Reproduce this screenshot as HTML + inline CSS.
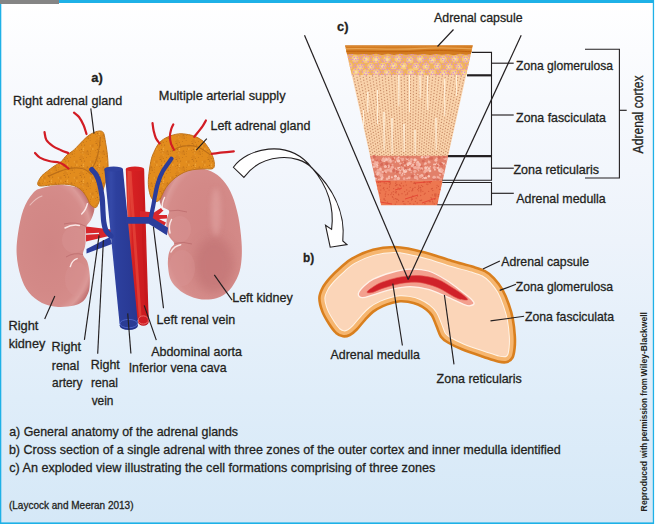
<!DOCTYPE html>
<html><head><meta charset="utf-8"><style>
html,body{margin:0;padding:0;background:#fff;}
svg{display:block;font-family:"Liberation Sans",sans-serif;}
</style></head><body>
<svg width="655" height="524" viewBox="0 0 655 524">
<defs>
<linearGradient id="bg" x1="0" y1="0" x2="0" y2="1">
<stop offset="0" stop-color="#ffffff"/><stop offset="0.19" stop-color="#f7f9fd"/><stop offset="0.46" stop-color="#edf3fb"/><stop offset="0.76" stop-color="#dfedf9"/><stop offset="1" stop-color="#d5e8f7"/>
</linearGradient>
</defs>
<rect x="0" y="0" width="655" height="524" fill="#ffffff"/>
<rect x="0" y="0" width="654" height="524" fill="url(#bg)"/>
<rect x="0" y="0" width="1.3" height="524" fill="#1eb1e7"/>
<rect x="652.8" y="0" width="1.3" height="524" fill="#1eb1e7"/>
<rect x="0" y="522.4" width="654" height="1.6" fill="#1eb1e7"/>
<rect x="0" y="0" width="654" height="3" fill="#1eb1e7"/>
<rect x="0" y="0" width="59" height="4" fill="#858585"/>
<clipPath id="ctrap"><path d="M345.0,45.3 L472.8,45.3 L437.2,205.3 L381.2,205.3 Z"/></clipPath>
<g clip-path="url(#ctrap)">
<rect x="340" y="50" width="140" height="26" fill="#f0b25e"/>
<circle cx="343.6" cy="58.9" r="3.6" fill="#f7c97e"/>
<circle cx="355.3" cy="58.8" r="3.6" fill="#f7c97e"/>
<circle cx="366.1" cy="59.3" r="3.6" fill="#f7c97e"/>
<circle cx="376.1" cy="59.5" r="3.6" fill="#f7c97e"/>
<circle cx="387.1" cy="59.4" r="3.6" fill="#f7c97e"/>
<circle cx="398.1" cy="58.8" r="3.6" fill="#f7c97e"/>
<circle cx="409.8" cy="60.0" r="3.6" fill="#f7c97e"/>
<circle cx="420.2" cy="59.1" r="3.6" fill="#f7c97e"/>
<circle cx="432.3" cy="60.2" r="3.6" fill="#f7c97e"/>
<circle cx="443.2" cy="59.3" r="3.6" fill="#f7c97e"/>
<circle cx="455.0" cy="58.8" r="3.6" fill="#f7c97e"/>
<circle cx="465.7" cy="59.2" r="3.6" fill="#f7c97e"/>
<circle cx="348.8" cy="65.9" r="3.6" fill="#f7c97e"/>
<circle cx="360.1" cy="67.0" r="3.6" fill="#f7c97e"/>
<circle cx="370.9" cy="66.6" r="3.6" fill="#f7c97e"/>
<circle cx="382.8" cy="66.3" r="3.6" fill="#f7c97e"/>
<circle cx="393.6" cy="65.8" r="3.6" fill="#f7c97e"/>
<circle cx="403.6" cy="66.0" r="3.6" fill="#f7c97e"/>
<circle cx="415.9" cy="66.4" r="3.6" fill="#f7c97e"/>
<circle cx="426.1" cy="66.6" r="3.6" fill="#f7c97e"/>
<circle cx="437.4" cy="66.2" r="3.6" fill="#f7c97e"/>
<circle cx="449.1" cy="66.8" r="3.6" fill="#f7c97e"/>
<circle cx="459.0" cy="66.6" r="3.6" fill="#f7c97e"/>
<circle cx="470.6" cy="67.1" r="3.6" fill="#f7c97e"/>
<circle cx="344.5" cy="72.2" r="3.6" fill="#f7c97e"/>
<circle cx="356.0" cy="71.9" r="3.6" fill="#f7c97e"/>
<circle cx="365.8" cy="72.9" r="3.6" fill="#f7c97e"/>
<circle cx="376.3" cy="72.5" r="3.6" fill="#f7c97e"/>
<circle cx="387.1" cy="72.8" r="3.6" fill="#f7c97e"/>
<circle cx="399.5" cy="72.6" r="3.6" fill="#f7c97e"/>
<circle cx="410.8" cy="72.2" r="3.6" fill="#f7c97e"/>
<circle cx="421.4" cy="72.7" r="3.6" fill="#f7c97e"/>
<circle cx="432.2" cy="72.4" r="3.6" fill="#f7c97e"/>
<circle cx="443.7" cy="73.2" r="3.6" fill="#f7c97e"/>
<circle cx="453.9" cy="72.8" r="3.6" fill="#f7c97e"/>
<circle cx="464.1" cy="72.8" r="3.6" fill="#f7c97e"/>
<circle cx="343.6" cy="58.9" r="1.5" fill="#fadbA6"/>
<circle cx="355.3" cy="58.8" r="1.5" fill="#fadbA6"/>
<circle cx="366.1" cy="59.3" r="1.5" fill="#fadbA6"/>
<circle cx="376.1" cy="59.5" r="1.5" fill="#fadbA6"/>
<circle cx="387.1" cy="59.4" r="1.5" fill="#fadbA6"/>
<circle cx="398.1" cy="58.8" r="1.5" fill="#fadbA6"/>
<circle cx="409.8" cy="60.0" r="1.5" fill="#fadbA6"/>
<circle cx="420.2" cy="59.1" r="1.5" fill="#fadbA6"/>
<circle cx="432.3" cy="60.2" r="1.5" fill="#fadbA6"/>
<circle cx="443.2" cy="59.3" r="1.5" fill="#fadbA6"/>
<circle cx="455.0" cy="58.8" r="1.5" fill="#fadbA6"/>
<circle cx="465.7" cy="59.2" r="1.5" fill="#fadbA6"/>
<circle cx="348.8" cy="65.9" r="1.5" fill="#fadbA6"/>
<circle cx="360.1" cy="67.0" r="1.5" fill="#fadbA6"/>
<circle cx="370.9" cy="66.6" r="1.5" fill="#fadbA6"/>
<circle cx="382.8" cy="66.3" r="1.5" fill="#fadbA6"/>
<circle cx="393.6" cy="65.8" r="1.5" fill="#fadbA6"/>
<circle cx="403.6" cy="66.0" r="1.5" fill="#fadbA6"/>
<circle cx="415.9" cy="66.4" r="1.5" fill="#fadbA6"/>
<circle cx="426.1" cy="66.6" r="1.5" fill="#fadbA6"/>
<circle cx="437.4" cy="66.2" r="1.5" fill="#fadbA6"/>
<circle cx="449.1" cy="66.8" r="1.5" fill="#fadbA6"/>
<circle cx="459.0" cy="66.6" r="1.5" fill="#fadbA6"/>
<circle cx="470.6" cy="67.1" r="1.5" fill="#fadbA6"/>
<circle cx="344.5" cy="72.2" r="1.5" fill="#fadbA6"/>
<circle cx="356.0" cy="71.9" r="1.5" fill="#fadbA6"/>
<circle cx="365.8" cy="72.9" r="1.5" fill="#fadbA6"/>
<circle cx="376.3" cy="72.5" r="1.5" fill="#fadbA6"/>
<circle cx="387.1" cy="72.8" r="1.5" fill="#fadbA6"/>
<circle cx="399.5" cy="72.6" r="1.5" fill="#fadbA6"/>
<circle cx="410.8" cy="72.2" r="1.5" fill="#fadbA6"/>
<circle cx="421.4" cy="72.7" r="1.5" fill="#fadbA6"/>
<circle cx="432.2" cy="72.4" r="1.5" fill="#fadbA6"/>
<circle cx="443.7" cy="73.2" r="1.5" fill="#fadbA6"/>
<circle cx="453.9" cy="72.8" r="1.5" fill="#fadbA6"/>
<circle cx="464.1" cy="72.8" r="1.5" fill="#fadbA6"/>
<path d="M344.1,54.9h0M347.2,54.3h0M349.7,54.6h0M352.2,54.5h0M361.0,54.3h0M364.2,54.8h0M366.8,54.5h0M370.1,54.8h0M373.3,54.8h0M378.7,54.8h0M382.2,54.2h0M384.3,54.3h0M390.5,54.3h0M392.8,54.4h0M396.1,54.6h0M399.6,54.7h0M402.0,54.6h0M408.2,54.7h0M411.1,54.7h0M413.5,54.4h0M416.1,54.6h0M419.0,54.2h0M422.0,54.2h0M425.0,54.1h0M430.6,54.4h0M433.4,54.8h0M436.9,54.2h0M442.5,54.2h0M445.8,54.9h0M454.0,54.3h0M457.4,54.2h0M462.9,54.2h0M468.7,54.9h0M472.0,54.7h0M474.3,54.4h0M345.1,57.2h0M348.3,57.2h0M351.0,56.8h0M354.4,57.4h0M357.4,57.2h0M360.2,57.2h0M362.5,57.0h0M365.6,56.6h0M368.1,56.8h0M371.3,57.2h0M374.9,57.0h0M377.7,57.4h0M380.7,56.9h0M385.7,56.8h0M389.0,57.3h0M392.1,57.0h0M394.9,57.2h0M397.2,57.1h0M400.9,57.2h0M403.7,57.0h0M406.0,57.2h0M409.0,57.2h0M412.6,56.9h0M414.9,57.4h0M418.1,56.7h0M420.4,56.7h0M424.1,57.2h0M426.2,57.3h0M430.0,57.1h0M432.3,57.0h0M434.9,56.6h0M438.7,57.1h0M441.1,57.3h0M443.9,57.3h0M447.2,56.8h0M449.6,56.8h0M452.4,57.1h0M455.4,56.9h0M458.1,57.3h0M461.3,57.0h0M464.4,57.3h0M467.1,57.3h0M470.1,57.0h0M473.0,56.6h0M475.8,56.7h0M343.5,59.7h0M346.6,59.5h0M350.0,59.5h0M352.5,59.5h0M355.7,59.7h0M358.1,59.5h0M361.1,59.3h0M364.6,59.5h0M370.5,59.5h0M378.8,59.5h0M381.7,59.9h0M384.8,59.8h0M390.5,59.9h0M398.7,59.3h0M401.6,59.6h0M407.5,59.7h0M410.9,59.2h0M414.0,59.9h0M416.2,59.9h0M422.8,59.8h0M424.9,59.4h0M428.1,59.4h0M430.7,59.4h0M436.9,59.5h0M439.2,59.4h0M442.7,59.5h0M445.1,59.9h0M448.7,59.9h0M450.9,59.3h0M453.7,59.7h0M459.9,59.8h0M465.4,59.8h0M468.8,59.7h0M471.2,59.1h0M474.7,59.4h0M345.0,62.4h0M348.4,62.2h0M353.7,62.3h0M357.0,61.9h0M362.6,61.7h0M368.2,61.7h0M371.1,61.8h0M374.2,61.8h0M377.6,61.8h0M382.9,61.6h0M385.8,61.6h0M389.1,62.0h0M391.5,62.0h0M395.1,61.7h0M397.9,61.9h0M400.5,62.3h0M403.3,62.0h0M406.5,62.4h0M409.0,62.3h0M414.9,61.9h0M417.5,61.7h0M420.4,62.2h0M423.5,61.7h0M426.2,62.3h0M429.9,62.1h0M432.2,61.8h0M435.1,62.0h0M437.9,62.0h0M444.5,62.0h0M446.6,62.4h0M449.6,61.9h0M452.2,61.9h0M455.6,62.0h0M458.2,62.0h0M460.9,61.8h0M463.9,61.9h0M466.7,61.6h0M469.9,61.8h0M473.1,62.0h0M476.2,62.1h0M344.2,64.8h0M346.8,64.4h0M350.3,64.2h0M355.1,64.8h0M358.9,64.6h0M361.6,64.7h0M363.9,64.5h0M370.4,64.8h0M373.1,64.8h0M376.1,64.7h0M378.5,64.1h0M381.3,64.4h0M384.2,64.8h0M387.6,64.6h0M390.5,64.6h0M393.3,64.1h0M399.1,64.5h0M402.2,64.2h0M407.4,64.3h0M410.9,64.3h0M413.8,64.9h0M416.5,64.4h0M419.4,64.6h0M422.6,64.6h0M425.3,64.2h0M427.7,64.3h0M434.0,64.1h0M436.4,64.3h0M439.9,64.7h0M442.8,64.3h0M445.5,64.5h0M448.4,64.2h0M451.7,64.3h0M454.7,64.8h0M456.6,64.5h0M460.3,64.9h0M465.5,64.9h0M468.4,64.6h0M471.2,64.5h0M475.0,64.2h0M345.7,67.0h0M348.7,67.2h0M350.9,67.3h0M354.1,66.6h0M356.5,67.0h0M359.9,66.8h0M362.4,66.9h0M365.5,67.3h0M368.1,67.2h0M371.8,66.7h0M374.8,67.2h0M377.7,66.8h0M380.1,66.9h0M383.6,67.1h0M385.9,66.9h0M388.7,66.6h0M391.4,67.3h0M394.5,67.3h0M397.3,66.8h0M400.5,66.8h0M406.7,67.2h0M412.5,67.0h0M415.2,66.6h0M418.1,67.0h0M421.1,67.1h0M427.0,66.7h0M429.5,66.9h0M435.8,66.8h0M438.4,66.8h0M443.7,66.7h0M446.6,67.3h0M449.8,66.8h0M455.5,66.7h0M458.2,66.7h0M461.2,66.7h0M467.3,67.3h0M470.3,66.9h0M472.9,67.0h0M475.8,66.9h0M343.6,69.3h0M347.4,69.2h0M349.8,69.6h0M355.4,69.3h0M358.4,69.5h0M361.9,69.8h0M366.7,69.7h0M370.5,69.5h0M373.1,69.1h0M375.8,69.8h0M379.1,69.8h0M382.2,69.3h0M384.2,69.2h0M387.5,69.6h0M390.8,69.7h0M393.4,69.7h0M396.2,69.5h0M398.6,69.7h0M401.7,69.8h0M407.4,69.3h0M419.3,69.3h0M422.4,69.1h0M425.0,69.5h0M428.6,69.6h0M431.4,69.5h0M433.6,69.3h0M437.3,69.7h0M439.5,69.1h0M442.6,69.6h0M445.4,69.3h0M448.6,69.8h0M451.0,69.1h0M454.0,69.4h0M457.3,69.3h0M460.3,69.7h0M462.9,69.3h0M466.3,69.3h0M469.0,69.3h0M471.3,69.7h0M474.3,69.9h0M345.4,71.7h0M348.0,71.9h0M353.7,71.9h0M359.5,71.6h0M362.4,71.9h0M366.1,72.3h0M368.8,72.4h0M371.9,71.9h0M374.1,72.3h0M377.5,71.6h0M380.4,71.9h0M383.0,71.9h0M388.7,71.9h0M392.3,71.7h0M395.2,71.8h0M397.5,72.3h0M400.8,71.9h0M402.9,72.0h0M408.9,71.9h0M412.5,71.6h0M414.9,72.2h0M418.2,71.6h0M420.3,71.7h0M424.1,71.8h0M426.8,72.3h0M429.3,71.8h0M432.9,72.1h0M438.0,71.8h0M440.6,72.2h0M444.4,72.1h0M447.3,71.6h0M449.5,72.0h0M453.2,72.4h0M455.5,71.8h0M458.4,72.0h0M461.8,71.7h0M464.6,72.2h0M467.5,72.2h0M470.2,71.9h0M472.8,71.9h0M476.2,71.7h0M346.6,74.2h0M352.5,74.9h0M356.0,74.9h0M358.3,74.2h0M364.5,74.5h0M366.9,74.4h0M373.2,74.8h0M376.1,74.2h0M379.1,74.3h0M381.8,74.4h0M384.8,74.3h0M387.2,74.3h0M390.1,74.8h0M393.4,74.4h0M396.1,74.9h0M399.1,74.3h0M402.3,74.6h0M405.4,74.2h0M407.8,74.8h0M411.0,74.8h0M413.1,74.3h0M416.1,74.3h0M419.9,74.6h0M422.7,74.4h0M427.9,74.7h0M431.4,74.2h0M434.0,74.6h0M436.5,74.4h0M439.3,74.3h0M442.4,74.6h0M445.7,74.3h0M447.9,74.4h0M451.5,74.2h0M454.0,74.3h0M457.4,74.5h0M459.6,74.2h0M462.8,74.5h0M468.4,74.7h0M471.5,74.3h0" stroke="#d88bd6" stroke-width="1.55" stroke-linecap="round" fill="none"/>
<rect x="340" y="75" width="140" height="81" fill="#f9d2aa"/>
<path d="M353.5,76.0h0M354.2,78.9h0M354.8,81.8h0M355.4,84.7h0M356.1,87.6h0M356.7,90.5h0M357.4,93.4h0M358.0,96.3h0M358.6,99.2h0M359.3,102.1h0M359.9,105.0h0M360.6,107.9h0M361.2,110.8h0M361.8,113.7h0M362.5,116.6h0M363.1,119.5h0M363.7,122.4h0M364.4,125.3h0M365.0,128.2h0M365.7,131.1h0M366.3,134.0h0M366.9,136.9h0M367.6,139.8h0M368.2,142.7h0M368.8,145.6h0M369.5,148.5h0M370.1,151.4h0M370.8,154.3h0M357.0,77.3h0M357.6,80.2h0M358.2,83.1h0M358.8,86.0h0M359.4,88.9h0M360.0,91.8h0M360.6,94.7h0M361.2,97.6h0M361.8,100.5h0M362.4,103.4h0M363.0,106.3h0M363.6,109.2h0M364.2,112.1h0M364.8,115.0h0M365.4,117.9h0M366.0,120.8h0M366.6,123.7h0M367.2,126.6h0M367.8,129.5h0M368.4,132.4h0M369.0,135.3h0M369.6,138.2h0M370.2,141.1h0M370.8,144.0h0M371.4,146.9h0M372.0,149.8h0M372.6,152.7h0M373.2,155.6h0M359.9,76.0h0M360.4,78.9h0M361.0,81.8h0M361.6,84.7h0M362.1,87.6h0M362.7,90.5h0M363.3,93.4h0M363.8,96.3h0M364.4,99.2h0M365.0,102.1h0M365.5,105.0h0M366.1,107.9h0M366.7,110.8h0M367.2,113.7h0M367.8,116.6h0M368.4,119.5h0M368.9,122.4h0M369.5,125.3h0M370.1,128.2h0M370.6,131.1h0M371.2,134.0h0M371.7,136.9h0M372.3,139.8h0M372.9,142.7h0M373.4,145.6h0M374.0,148.5h0M374.6,151.4h0M375.1,154.3h0M363.3,77.3h0M363.8,80.2h0M364.3,83.1h0M364.9,86.0h0M365.4,88.9h0M365.9,91.8h0M366.4,94.7h0M367.0,97.6h0M367.5,100.5h0M368.0,103.4h0M368.6,106.3h0M369.1,109.2h0M369.6,112.1h0M370.2,115.0h0M370.7,117.9h0M371.2,120.8h0M371.7,123.7h0M372.3,126.6h0M372.8,129.5h0M373.3,132.4h0M373.9,135.3h0M374.4,138.2h0M374.9,141.1h0M375.5,144.0h0M376.0,146.9h0M376.5,149.8h0M377.0,152.7h0M377.6,155.6h0M366.2,76.0h0M366.7,78.9h0M367.2,81.8h0M367.7,84.7h0M368.2,87.6h0M368.7,90.5h0M369.2,93.4h0M369.7,96.3h0M370.1,99.2h0M370.6,102.1h0M371.1,105.0h0M371.6,107.9h0M372.1,110.8h0M372.6,113.7h0M373.1,116.6h0M373.6,119.5h0M374.1,122.4h0M374.6,125.3h0M375.1,128.2h0M375.6,131.1h0M376.1,134.0h0M376.6,136.9h0M377.1,139.8h0M377.6,142.7h0M378.0,145.6h0M378.5,148.5h0M379.0,151.4h0M379.5,154.3h0M369.6,77.3h0M370.0,80.2h0M370.5,83.1h0M370.9,86.0h0M371.4,88.9h0M371.9,91.8h0M372.3,94.7h0M372.8,97.6h0M373.2,100.5h0M373.7,103.4h0M374.1,106.3h0M374.6,109.2h0M375.1,112.1h0M375.5,115.0h0M376.0,117.9h0M376.4,120.8h0M376.9,123.7h0M377.3,126.6h0M377.8,129.5h0M378.3,132.4h0M378.7,135.3h0M379.2,138.2h0M379.6,141.1h0M380.1,144.0h0M380.5,146.9h0M381.0,149.8h0M381.5,152.7h0M381.9,155.6h0M372.5,76.0h0M372.9,78.9h0M373.4,81.8h0M373.8,84.7h0M374.2,87.6h0M374.6,90.5h0M375.1,93.4h0M375.5,96.3h0M375.9,99.2h0M376.3,102.1h0M376.7,105.0h0M377.2,107.9h0M377.6,110.8h0M378.0,113.7h0M378.4,116.6h0M378.8,119.5h0M379.3,122.4h0M379.7,125.3h0M380.1,128.2h0M380.5,131.1h0M381.0,134.0h0M381.4,136.9h0M381.8,139.8h0M382.2,142.7h0M382.6,145.6h0M383.1,148.5h0M383.5,151.4h0M383.9,154.3h0M375.9,77.3h0M376.3,80.2h0M376.6,83.1h0M377.0,86.0h0M377.4,88.9h0M377.8,91.8h0M378.2,94.7h0M378.6,97.6h0M378.9,100.5h0M379.3,103.4h0M379.7,106.3h0M380.1,109.2h0M380.5,112.1h0M380.9,115.0h0M381.3,117.9h0M381.6,120.8h0M382.0,123.7h0M382.4,126.6h0M382.8,129.5h0M383.2,132.4h0M383.6,135.3h0M384.0,138.2h0M384.3,141.1h0M384.7,144.0h0M385.1,146.9h0M385.5,149.8h0M385.9,152.7h0M386.3,155.6h0M378.9,76.0h0M379.2,78.9h0M379.6,81.8h0M379.9,84.7h0M380.3,87.6h0M380.6,90.5h0M381.0,93.4h0M381.3,96.3h0M381.7,99.2h0M382.0,102.1h0M382.4,105.0h0M382.7,107.9h0M383.1,110.8h0M383.4,113.7h0M383.7,116.6h0M384.1,119.5h0M384.4,122.4h0M384.8,125.3h0M385.1,128.2h0M385.5,131.1h0M385.8,134.0h0M386.2,136.9h0M386.5,139.8h0M386.9,142.7h0M387.2,145.6h0M387.6,148.5h0M387.9,151.4h0M388.3,154.3h0M382.2,77.3h0M382.5,80.2h0M382.8,83.1h0M383.1,86.0h0M383.4,88.9h0M383.7,91.8h0M384.0,94.7h0M384.4,97.6h0M384.7,100.5h0M385.0,103.4h0M385.3,106.3h0M385.6,109.2h0M385.9,112.1h0M386.2,115.0h0M386.6,117.9h0M386.9,120.8h0M387.2,123.7h0M387.5,126.6h0M387.8,129.5h0M388.1,132.4h0M388.4,135.3h0M388.7,138.2h0M389.1,141.1h0M389.4,144.0h0M389.7,146.9h0M390.0,149.8h0M390.3,152.7h0M390.6,155.6h0M385.2,76.0h0M385.5,78.9h0M385.7,81.8h0M386.0,84.7h0M386.3,87.6h0M386.6,90.5h0M386.9,93.4h0M387.1,96.3h0M387.4,99.2h0M387.7,102.1h0M388.0,105.0h0M388.2,107.9h0M388.5,110.8h0M388.8,113.7h0M389.1,116.6h0M389.3,119.5h0M389.6,122.4h0M389.9,125.3h0M390.2,128.2h0M390.5,131.1h0M390.7,134.0h0M391.0,136.9h0M391.3,139.8h0M391.6,142.7h0M391.8,145.6h0M392.1,148.5h0M392.4,151.4h0M392.7,154.3h0M388.5,77.3h0M388.7,80.2h0M388.9,83.1h0M389.2,86.0h0M389.4,88.9h0M389.7,91.8h0M389.9,94.7h0M390.2,97.6h0M390.4,100.5h0M390.6,103.4h0M390.9,106.3h0M391.1,109.2h0M391.4,112.1h0M391.6,115.0h0M391.8,117.9h0M392.1,120.8h0M392.3,123.7h0M392.6,126.6h0M392.8,129.5h0M393.0,132.4h0M393.3,135.3h0M393.5,138.2h0M393.8,141.1h0M394.0,144.0h0M394.2,146.9h0M394.5,149.8h0M394.7,152.7h0M395.0,155.6h0M391.5,76.0h0M391.7,78.9h0M391.9,81.8h0M392.1,84.7h0M392.3,87.6h0M392.5,90.5h0M392.8,93.4h0M393.0,96.3h0M393.2,99.2h0M393.4,102.1h0M393.6,105.0h0M393.8,107.9h0M394.0,110.8h0M394.2,113.7h0M394.4,116.6h0M394.6,119.5h0M394.8,122.4h0M395.0,125.3h0M395.2,128.2h0M395.4,131.1h0M395.6,134.0h0M395.8,136.9h0M396.0,139.8h0M396.2,142.7h0M396.4,145.6h0M396.6,148.5h0M396.8,151.4h0M397.1,154.3h0M394.8,77.3h0M394.9,80.2h0M395.1,83.1h0M395.3,86.0h0M395.4,88.9h0M395.6,91.8h0M395.8,94.7h0M395.9,97.6h0M396.1,100.5h0M396.3,103.4h0M396.5,106.3h0M396.6,109.2h0M396.8,112.1h0M397.0,115.0h0M397.1,117.9h0M397.3,120.8h0M397.5,123.7h0M397.6,126.6h0M397.8,129.5h0M398.0,132.4h0M398.1,135.3h0M398.3,138.2h0M398.5,141.1h0M398.6,144.0h0M398.8,146.9h0M399.0,149.8h0M399.1,152.7h0M399.3,155.6h0M397.9,76.0h0M398.0,78.9h0M398.1,81.8h0M398.3,84.7h0M398.4,87.6h0M398.5,90.5h0M398.7,93.4h0M398.8,96.3h0M398.9,99.2h0M399.1,102.1h0M399.2,105.0h0M399.3,107.9h0M399.4,110.8h0M399.6,113.7h0M399.7,116.6h0M399.8,119.5h0M400.0,122.4h0M400.1,125.3h0M400.2,128.2h0M400.4,131.1h0M400.5,134.0h0M400.6,136.9h0M400.8,139.8h0M400.9,142.7h0M401.0,145.6h0M401.2,148.5h0M401.3,151.4h0M401.4,154.3h0M401.1,77.3h0M401.2,80.2h0M401.3,83.1h0M401.4,86.0h0M401.5,88.9h0M401.5,91.8h0M401.6,94.7h0M401.7,97.6h0M401.8,100.5h0M401.9,103.4h0M402.0,106.3h0M402.1,109.2h0M402.2,112.1h0M402.3,115.0h0M402.4,117.9h0M402.5,120.8h0M402.6,123.7h0M402.7,126.6h0M402.8,129.5h0M402.9,132.4h0M403.0,135.3h0M403.1,138.2h0M403.2,141.1h0M403.3,144.0h0M403.4,146.9h0M403.5,149.8h0M403.6,152.7h0M403.7,155.6h0M404.2,76.0h0M404.3,78.9h0M404.3,81.8h0M404.4,84.7h0M404.4,87.6h0M404.5,90.5h0M404.6,93.4h0M404.6,96.3h0M404.7,99.2h0M404.7,102.1h0M404.8,105.0h0M404.9,107.9h0M404.9,110.8h0M405.0,113.7h0M405.0,116.6h0M405.1,119.5h0M405.2,122.4h0M405.2,125.3h0M405.3,128.2h0M405.3,131.1h0M405.4,134.0h0M405.5,136.9h0M405.5,139.8h0M405.6,142.7h0M405.6,145.6h0M405.7,148.5h0M405.8,151.4h0M405.8,154.3h0M407.4,77.3h0M407.4,80.2h0M407.4,83.1h0M407.4,86.0h0M407.5,88.9h0M407.5,91.8h0M407.5,94.7h0M407.5,97.6h0M407.6,100.5h0M407.6,103.4h0M407.6,106.3h0M407.6,109.2h0M407.7,112.1h0M407.7,115.0h0M407.7,117.9h0M407.7,120.8h0M407.8,123.7h0M407.8,126.6h0M407.8,129.5h0M407.8,132.4h0M407.8,135.3h0M407.9,138.2h0M407.9,141.1h0M407.9,144.0h0M407.9,146.9h0M408.0,149.8h0M408.0,152.7h0M408.0,155.6h0M410.5,76.0h0M410.5,78.9h0M410.5,81.8h0M410.5,84.7h0M410.5,87.6h0M410.5,90.5h0M410.5,93.4h0M410.4,96.3h0M410.4,99.2h0M410.4,102.1h0M410.4,105.0h0M410.4,107.9h0M410.4,110.8h0M410.4,113.7h0M410.4,116.6h0M410.3,119.5h0M410.3,122.4h0M410.3,125.3h0M410.3,128.2h0M410.3,131.1h0M410.3,134.0h0M410.3,136.9h0M410.3,139.8h0M410.2,142.7h0M410.2,145.6h0M410.2,148.5h0M410.2,151.4h0M410.2,154.3h0M413.7,77.3h0M413.6,80.2h0M413.6,83.1h0M413.5,86.0h0M413.5,88.9h0M413.4,91.8h0M413.4,94.7h0M413.3,97.6h0M413.3,100.5h0M413.2,103.4h0M413.2,106.3h0M413.1,109.2h0M413.1,112.1h0M413.0,115.0h0M413.0,117.9h0M412.9,120.8h0M412.9,123.7h0M412.8,126.6h0M412.8,129.5h0M412.8,132.4h0M412.7,135.3h0M412.7,138.2h0M412.6,141.1h0M412.6,144.0h0M412.5,146.9h0M412.5,149.8h0M412.4,152.7h0M412.4,155.6h0M416.9,76.0h0M416.8,78.9h0M416.7,81.8h0M416.6,84.7h0M416.5,87.6h0M416.4,90.5h0M416.4,93.4h0M416.3,96.3h0M416.2,99.2h0M416.1,102.1h0M416.0,105.0h0M415.9,107.9h0M415.8,110.8h0M415.8,113.7h0M415.7,116.6h0M415.6,119.5h0M415.5,122.4h0M415.4,125.3h0M415.3,128.2h0M415.3,131.1h0M415.2,134.0h0M415.1,136.9h0M415.0,139.8h0M414.9,142.7h0M414.8,145.6h0M414.7,148.5h0M414.7,151.4h0M414.6,154.3h0M420.0,77.3h0M419.8,80.2h0M419.7,83.1h0M419.6,86.0h0M419.5,88.9h0M419.4,91.8h0M419.2,94.7h0M419.1,97.6h0M419.0,100.5h0M418.9,103.4h0M418.8,106.3h0M418.6,109.2h0M418.5,112.1h0M418.4,115.0h0M418.3,117.9h0M418.2,120.8h0M418.0,123.7h0M417.9,126.6h0M417.8,129.5h0M417.7,132.4h0M417.6,135.3h0M417.4,138.2h0M417.3,141.1h0M417.2,144.0h0M417.1,146.9h0M417.0,149.8h0M416.8,152.7h0M416.7,155.6h0M423.2,76.0h0M423.0,78.9h0M422.9,81.8h0M422.7,84.7h0M422.6,87.6h0M422.4,90.5h0M422.2,93.4h0M422.1,96.3h0M421.9,99.2h0M421.8,102.1h0M421.6,105.0h0M421.5,107.9h0M421.3,110.8h0M421.2,113.7h0M421.0,116.6h0M420.8,119.5h0M420.7,122.4h0M420.5,125.3h0M420.4,128.2h0M420.2,131.1h0M420.1,134.0h0M419.9,136.9h0M419.7,139.8h0M419.6,142.7h0M419.4,145.6h0M419.3,148.5h0M419.1,151.4h0M419.0,154.3h0M426.3,77.3h0M426.1,80.2h0M425.9,83.1h0M425.7,86.0h0M425.5,88.9h0M425.3,91.8h0M425.1,94.7h0M424.9,97.6h0M424.7,100.5h0M424.5,103.4h0M424.3,106.3h0M424.1,109.2h0M424.0,112.1h0M423.8,115.0h0M423.6,117.9h0M423.4,120.8h0M423.2,123.7h0M423.0,126.6h0M422.8,129.5h0M422.6,132.4h0M422.4,135.3h0M422.2,138.2h0M422.0,141.1h0M421.8,144.0h0M421.6,146.9h0M421.4,149.8h0M421.3,152.7h0M421.1,155.6h0M429.5,76.0h0M429.3,78.9h0M429.1,81.8h0M428.8,84.7h0M428.6,87.6h0M428.4,90.5h0M428.1,93.4h0M427.9,96.3h0M427.7,99.2h0M427.5,102.1h0M427.2,105.0h0M427.0,107.9h0M426.8,110.8h0M426.5,113.7h0M426.3,116.6h0M426.1,119.5h0M425.9,122.4h0M425.6,125.3h0M425.4,128.2h0M425.2,131.1h0M424.9,134.0h0M424.7,136.9h0M424.5,139.8h0M424.3,142.7h0M424.0,145.6h0M423.8,148.5h0M423.6,151.4h0M423.3,154.3h0M432.6,77.3h0M432.3,80.2h0M432.0,83.1h0M431.8,86.0h0M431.5,88.9h0M431.2,91.8h0M431.0,94.7h0M430.7,97.6h0M430.4,100.5h0M430.2,103.4h0M429.9,106.3h0M429.7,109.2h0M429.4,112.1h0M429.1,115.0h0M428.9,117.9h0M428.6,120.8h0M428.3,123.7h0M428.1,126.6h0M427.8,129.5h0M427.5,132.4h0M427.3,135.3h0M427.0,138.2h0M426.7,141.1h0M426.5,144.0h0M426.2,146.9h0M425.9,149.8h0M425.7,152.7h0M425.4,155.6h0M435.9,76.0h0M435.6,78.9h0M435.3,81.8h0M435.0,84.7h0M434.6,87.6h0M434.3,90.5h0M434.0,93.4h0M433.7,96.3h0M433.4,99.2h0M433.1,102.1h0M432.8,105.0h0M432.5,107.9h0M432.2,110.8h0M431.9,113.7h0M431.6,116.6h0M431.3,119.5h0M431.0,122.4h0M430.7,125.3h0M430.4,128.2h0M430.1,131.1h0M429.8,134.0h0M429.5,136.9h0M429.2,139.8h0M428.9,142.7h0M428.6,145.6h0M428.3,148.5h0M428.0,151.4h0M427.7,154.3h0M438.9,77.3h0M438.5,80.2h0M438.2,83.1h0M437.9,86.0h0M437.5,88.9h0M437.2,91.8h0M436.8,94.7h0M436.5,97.6h0M436.2,100.5h0M435.8,103.4h0M435.5,106.3h0M435.2,109.2h0M434.8,112.1h0M434.5,115.0h0M434.1,117.9h0M433.8,120.8h0M433.5,123.7h0M433.1,126.6h0M432.8,129.5h0M432.5,132.4h0M432.1,135.3h0M431.8,138.2h0M431.4,141.1h0M431.1,144.0h0M430.8,146.9h0M430.4,149.8h0M430.1,152.7h0M429.8,155.6h0M442.2,76.0h0M441.8,78.9h0M441.4,81.8h0M441.1,84.7h0M440.7,87.6h0M440.3,90.5h0M439.9,93.4h0M439.6,96.3h0M439.2,99.2h0M438.8,102.1h0M438.5,105.0h0M438.1,107.9h0M437.7,110.8h0M437.3,113.7h0M437.0,116.6h0M436.6,119.5h0M436.2,122.4h0M435.8,125.3h0M435.5,128.2h0M435.1,131.1h0M434.7,134.0h0M434.3,136.9h0M434.0,139.8h0M433.6,142.7h0M433.2,145.6h0M432.9,148.5h0M432.5,151.4h0M432.1,154.3h0M445.2,77.3h0M444.8,80.2h0M444.4,83.1h0M443.9,86.0h0M443.5,88.9h0M443.1,91.8h0M442.7,94.7h0M442.3,97.6h0M441.9,100.5h0M441.5,103.4h0M441.1,106.3h0M440.7,109.2h0M440.3,112.1h0M439.8,115.0h0M439.4,117.9h0M439.0,120.8h0M438.6,123.7h0M438.2,126.6h0M437.8,129.5h0M437.4,132.4h0M437.0,135.3h0M436.6,138.2h0M436.2,141.1h0M435.8,144.0h0M435.3,146.9h0M434.9,149.8h0M434.5,152.7h0M434.1,155.6h0M448.5,76.0h0M448.1,78.9h0M447.6,81.8h0M447.2,84.7h0M446.7,87.6h0M446.3,90.5h0M445.8,93.4h0M445.4,96.3h0M445.0,99.2h0M444.5,102.1h0M444.1,105.0h0M443.6,107.9h0M443.2,110.8h0M442.7,113.7h0M442.3,116.6h0M441.8,119.5h0M441.4,122.4h0M440.9,125.3h0M440.5,128.2h0M440.1,131.1h0M439.6,134.0h0M439.2,136.9h0M438.7,139.8h0M438.3,142.7h0M437.8,145.6h0M437.4,148.5h0M436.9,151.4h0M436.5,154.3h0M451.5,77.3h0M451.0,80.2h0M450.5,83.1h0M450.0,86.0h0M449.5,88.9h0M449.1,91.8h0M448.6,94.7h0M448.1,97.6h0M447.6,100.5h0M447.1,103.4h0M446.7,106.3h0M446.2,109.2h0M445.7,112.1h0M445.2,115.0h0M444.7,117.9h0M444.2,120.8h0M443.8,123.7h0M443.3,126.6h0M442.8,129.5h0M442.3,132.4h0M441.8,135.3h0M441.4,138.2h0M440.9,141.1h0M440.4,144.0h0M439.9,146.9h0M439.4,149.8h0M438.9,152.7h0M438.5,155.6h0M454.9,76.0h0M454.3,78.9h0M453.8,81.8h0M453.3,84.7h0M452.8,87.6h0M452.3,90.5h0M451.7,93.4h0M451.2,96.3h0M450.7,99.2h0M450.2,102.1h0M449.7,105.0h0M449.2,107.9h0M448.6,110.8h0M448.1,113.7h0M447.6,116.6h0M447.1,119.5h0M446.6,122.4h0M446.0,125.3h0M445.5,128.2h0M445.0,131.1h0M444.5,134.0h0M444.0,136.9h0M443.5,139.8h0M442.9,142.7h0M442.4,145.6h0M441.9,148.5h0M441.4,151.4h0M440.9,154.3h0M457.8,77.3h0M457.2,80.2h0M456.7,83.1h0M456.1,86.0h0M455.6,88.9h0M455.0,91.8h0M454.4,94.7h0M453.9,97.6h0M453.3,100.5h0M452.8,103.4h0M452.2,106.3h0M451.7,109.2h0M451.1,112.1h0M450.6,115.0h0M450.0,117.9h0M449.5,120.8h0M448.9,123.7h0M448.4,126.6h0M447.8,129.5h0M447.2,132.4h0M446.7,135.3h0M446.1,138.2h0M445.6,141.1h0M445.0,144.0h0M444.5,146.9h0M443.9,149.8h0M443.4,152.7h0M442.8,155.6h0M461.2,76.0h0M460.6,78.9h0M460.0,81.8h0M459.4,84.7h0M458.8,87.6h0M458.2,90.5h0M457.6,93.4h0M457.1,96.3h0M456.5,99.2h0M455.9,102.1h0M455.3,105.0h0M454.7,107.9h0M454.1,110.8h0M453.5,113.7h0M452.9,116.6h0M452.3,119.5h0M451.7,122.4h0M451.2,125.3h0M450.6,128.2h0M450.0,131.1h0M449.4,134.0h0M448.8,136.9h0M448.2,139.8h0M447.6,142.7h0M447.0,145.6h0M446.4,148.5h0M445.8,151.4h0M445.2,154.3h0M464.1,77.3h0M463.4,80.2h0M462.8,83.1h0M462.2,86.0h0M461.6,88.9h0M460.9,91.8h0M460.3,94.7h0M459.7,97.6h0M459.1,100.5h0M458.4,103.4h0M457.8,106.3h0M457.2,109.2h0M456.6,112.1h0M455.9,115.0h0M455.3,117.9h0M454.7,120.8h0M454.0,123.7h0M453.4,126.6h0M452.8,129.5h0M452.2,132.4h0M451.5,135.3h0M450.9,138.2h0M450.3,141.1h0M449.7,144.0h0M449.0,146.9h0M448.4,149.8h0M447.8,152.7h0M447.2,155.6h0" stroke="#c68a66" stroke-width="1.35" stroke-linecap="round" fill="none"/>
<path d="M398.3,75 L399.3,75 L398.9,106 Z" fill="#fff4e2"/>
<line x1="398.8" y1="75" x2="398.9" y2="106" stroke="#fff2de" stroke-width="0.9"/>
<path d="M408.9,75 L409.9,75 L409.5,112 Z" fill="#fff4e2"/>
<line x1="409.4" y1="75" x2="409.5" y2="112" stroke="#fff2de" stroke-width="0.9"/>
<path d="M419.5,76 L420.5,76 L420.1,98 Z" fill="#fff4e2"/>
<line x1="420.0" y1="76" x2="420.1" y2="98" stroke="#fff2de" stroke-width="0.9"/>
<path d="M427.1,76 L428.1,76 L427.7,110 Z" fill="#fff4e2"/>
<line x1="427.6" y1="76" x2="427.7" y2="110" stroke="#fff2de" stroke-width="0.9"/>
<path d="M444.2,79 L445.2,79 L444.8,116 Z" fill="#fff4e2"/>
<line x1="444.7" y1="79" x2="444.8" y2="116" stroke="#fff2de" stroke-width="0.9"/>
<path d="M456.0,75 L457.0,75 L456.6,96 Z" fill="#fff4e2"/>
<line x1="456.5" y1="75" x2="456.6" y2="96" stroke="#fff2de" stroke-width="0.9"/>
<path d="M367.3,92 L368.3,92 L367.9,112 Z" fill="#fff4e2"/>
<line x1="367.8" y1="92" x2="367.9" y2="112" stroke="#fff2de" stroke-width="0.9"/>
<path d="M376.9,90 L377.9,90 L377.5,124 Z" fill="#fff4e2"/>
<line x1="377.4" y1="90" x2="377.5" y2="124" stroke="#fff2de" stroke-width="0.9"/>
<path d="M363.0,110 L364.0,110 L363.6,132 Z" fill="#fff4e2"/>
<line x1="363.5" y1="110" x2="363.6" y2="132" stroke="#fff2de" stroke-width="0.9"/>
<path d="M383.5,112 L384.5,112 L384.1,150 Z" fill="#fff4e2"/>
<line x1="384.0" y1="112" x2="384.1" y2="150" stroke="#fff2de" stroke-width="0.9"/>
<path d="M391.5,118 L392.5,118 L392.1,154 Z" fill="#fff4e2"/>
<line x1="392.0" y1="118" x2="392.1" y2="154" stroke="#fff2de" stroke-width="0.9"/>
<path d="M403.5,124 L404.5,124 L404.1,152 Z" fill="#fff4e2"/>
<line x1="404.0" y1="124" x2="404.1" y2="152" stroke="#fff2de" stroke-width="0.9"/>
<path d="M435.5,118 L436.5,118 L436.1,150 Z" fill="#fff4e2"/>
<line x1="436.0" y1="118" x2="436.1" y2="150" stroke="#fff2de" stroke-width="0.9"/>
<path d="M414.5,130 L415.5,130 L415.1,154 Z" fill="#fff4e2"/>
<line x1="415.0" y1="130" x2="415.1" y2="154" stroke="#fff2de" stroke-width="0.9"/>
<rect x="340" y="155.8" width="140" height="25" fill="#e2806a"/>
<circle cx="376.6" cy="165.5" r="1.7" fill="#f8c8bb"/>
<circle cx="430.3" cy="166.7" r="0.8" fill="#f6bcae"/>
<circle cx="391.9" cy="177.3" r="1.1" fill="#f6bcae"/>
<circle cx="401.9" cy="175.1" r="1.4" fill="#f0a898"/>
<circle cx="451.4" cy="163.5" r="0.6" fill="#f8c8bb"/>
<circle cx="419.3" cy="166.0" r="1.4" fill="#d86a58"/>
<circle cx="427.6" cy="170.3" r="1.3" fill="#f4b0a0"/>
<circle cx="424.8" cy="171.8" r="1.6" fill="#f0a898"/>
<circle cx="440.5" cy="172.5" r="1.3" fill="#d86a58"/>
<circle cx="404.8" cy="162.6" r="1.4" fill="#d86a58"/>
<circle cx="388.6" cy="165.9" r="1.4" fill="#f4b0a0"/>
<circle cx="389.3" cy="166.5" r="1.1" fill="#f0a898"/>
<circle cx="441.0" cy="168.7" r="1.3" fill="#f4b0a0"/>
<circle cx="444.0" cy="164.2" r="0.6" fill="#d86a58"/>
<circle cx="445.2" cy="159.0" r="0.9" fill="#f4b0a0"/>
<circle cx="381.7" cy="174.9" r="1.6" fill="#f0a898"/>
<circle cx="397.6" cy="176.4" r="1.1" fill="#f4b0a0"/>
<circle cx="429.0" cy="168.5" r="1.3" fill="#f8c8bb"/>
<circle cx="412.3" cy="166.1" r="1.6" fill="#f4b0a0"/>
<circle cx="452.2" cy="160.8" r="1.2" fill="#f6bcae"/>
<circle cx="430.0" cy="170.9" r="1.3" fill="#f8c8bb"/>
<circle cx="391.3" cy="165.9" r="0.6" fill="#d86a58"/>
<circle cx="445.8" cy="171.3" r="1.3" fill="#f0a898"/>
<circle cx="390.5" cy="161.8" r="1.4" fill="#f0a898"/>
<circle cx="450.6" cy="179.9" r="1.7" fill="#d86a58"/>
<circle cx="386.0" cy="159.5" r="1.5" fill="#f4b0a0"/>
<circle cx="407.9" cy="169.7" r="0.8" fill="#f4b0a0"/>
<circle cx="398.0" cy="171.5" r="1.5" fill="#d86a58"/>
<circle cx="407.8" cy="163.4" r="1.2" fill="#f4b0a0"/>
<circle cx="434.3" cy="167.5" r="1.5" fill="#f4b0a0"/>
<circle cx="390.7" cy="165.3" r="0.9" fill="#d86a58"/>
<circle cx="425.7" cy="167.8" r="1.5" fill="#f8c8bb"/>
<circle cx="398.4" cy="171.9" r="1.0" fill="#d86a58"/>
<circle cx="404.4" cy="171.5" r="1.3" fill="#f8c8bb"/>
<circle cx="381.0" cy="163.6" r="1.0" fill="#f6bcae"/>
<circle cx="438.4" cy="177.8" r="1.5" fill="#f4b0a0"/>
<circle cx="413.1" cy="164.6" r="1.2" fill="#f6bcae"/>
<circle cx="385.8" cy="158.2" r="0.9" fill="#f0a898"/>
<circle cx="376.6" cy="159.9" r="0.9" fill="#d86a58"/>
<circle cx="397.4" cy="160.1" r="1.6" fill="#f0a898"/>
<circle cx="382.3" cy="177.4" r="1.3" fill="#f6bcae"/>
<circle cx="424.8" cy="177.5" r="1.5" fill="#f8c8bb"/>
<circle cx="384.8" cy="172.8" r="1.2" fill="#d86a58"/>
<circle cx="425.1" cy="159.2" r="0.7" fill="#d86a58"/>
<circle cx="387.9" cy="159.8" r="1.1" fill="#f6bcae"/>
<circle cx="409.2" cy="177.8" r="1.4" fill="#f4b0a0"/>
<circle cx="410.3" cy="169.2" r="1.5" fill="#f6bcae"/>
<circle cx="381.6" cy="164.0" r="1.4" fill="#d86a58"/>
<circle cx="424.6" cy="176.3" r="1.0" fill="#d86a58"/>
<circle cx="453.0" cy="172.4" r="0.8" fill="#f8c8bb"/>
<circle cx="422.1" cy="157.2" r="1.3" fill="#f8c8bb"/>
<circle cx="436.7" cy="158.7" r="1.1" fill="#f4b0a0"/>
<circle cx="370.9" cy="173.4" r="1.3" fill="#f8c8bb"/>
<circle cx="376.0" cy="172.0" r="1.0" fill="#f0a898"/>
<circle cx="415.1" cy="177.9" r="0.9" fill="#f8c8bb"/>
<circle cx="403.9" cy="169.5" r="1.5" fill="#f8c8bb"/>
<circle cx="398.2" cy="168.1" r="1.0" fill="#f8c8bb"/>
<circle cx="442.2" cy="164.6" r="0.8" fill="#d86a58"/>
<circle cx="435.3" cy="164.3" r="0.9" fill="#f8c8bb"/>
<circle cx="378.8" cy="179.4" r="0.7" fill="#f6bcae"/>
<circle cx="401.9" cy="169.5" r="1.0" fill="#f0a898"/>
<circle cx="372.2" cy="163.6" r="0.6" fill="#f4b0a0"/>
<circle cx="437.9" cy="167.7" r="1.4" fill="#f6bcae"/>
<circle cx="435.1" cy="177.9" r="1.3" fill="#f0a898"/>
<circle cx="380.5" cy="172.3" r="1.4" fill="#f6bcae"/>
<circle cx="386.1" cy="172.2" r="1.1" fill="#f4b0a0"/>
<circle cx="376.6" cy="160.8" r="0.6" fill="#f6bcae"/>
<circle cx="445.7" cy="171.9" r="1.0" fill="#f4b0a0"/>
<circle cx="434.9" cy="169.7" r="0.9" fill="#f8c8bb"/>
<circle cx="383.7" cy="157.3" r="0.6" fill="#f0a898"/>
<circle cx="422.6" cy="178.4" r="0.7" fill="#f0a898"/>
<circle cx="412.4" cy="175.9" r="1.5" fill="#d86a58"/>
<circle cx="416.9" cy="178.1" r="1.1" fill="#f6bcae"/>
<circle cx="425.8" cy="170.5" r="1.7" fill="#f4b0a0"/>
<circle cx="408.4" cy="166.2" r="0.7" fill="#d86a58"/>
<circle cx="386.0" cy="160.1" r="0.6" fill="#f6bcae"/>
<circle cx="368.8" cy="172.2" r="1.7" fill="#f6bcae"/>
<circle cx="386.6" cy="159.4" r="1.1" fill="#f8c8bb"/>
<circle cx="429.1" cy="162.2" r="1.4" fill="#f4b0a0"/>
<circle cx="446.4" cy="165.1" r="1.4" fill="#f4b0a0"/>
<circle cx="430.0" cy="158.5" r="1.3" fill="#d86a58"/>
<circle cx="407.1" cy="178.4" r="0.9" fill="#f6bcae"/>
<circle cx="429.0" cy="156.8" r="0.6" fill="#f0a898"/>
<circle cx="374.8" cy="163.8" r="1.4" fill="#f4b0a0"/>
<circle cx="449.4" cy="176.1" r="1.3" fill="#f8c8bb"/>
<circle cx="399.2" cy="170.0" r="1.1" fill="#f4b0a0"/>
<circle cx="380.3" cy="175.2" r="1.0" fill="#f4b0a0"/>
<circle cx="421.5" cy="166.3" r="1.0" fill="#d86a58"/>
<circle cx="448.3" cy="174.9" r="1.2" fill="#f8c8bb"/>
<circle cx="391.8" cy="171.1" r="1.3" fill="#f0a898"/>
<circle cx="396.2" cy="170.7" r="1.7" fill="#f4b0a0"/>
<circle cx="419.1" cy="163.8" r="1.1" fill="#f4b0a0"/>
<circle cx="400.0" cy="172.6" r="1.3" fill="#f4b0a0"/>
<circle cx="436.6" cy="163.2" r="0.6" fill="#f8c8bb"/>
<circle cx="390.8" cy="160.2" r="1.6" fill="#f6bcae"/>
<circle cx="392.5" cy="159.8" r="1.6" fill="#f0a898"/>
<circle cx="380.5" cy="179.4" r="1.5" fill="#f0a898"/>
<circle cx="426.2" cy="178.0" r="1.0" fill="#f6bcae"/>
<circle cx="413.9" cy="167.9" r="1.0" fill="#f4b0a0"/>
<circle cx="394.3" cy="157.9" r="1.0" fill="#f4b0a0"/>
<circle cx="446.7" cy="170.3" r="0.6" fill="#d86a58"/>
<circle cx="407.1" cy="158.6" r="1.5" fill="#f6bcae"/>
<circle cx="387.8" cy="170.1" r="1.6" fill="#f0a898"/>
<circle cx="395.3" cy="168.4" r="0.8" fill="#f4b0a0"/>
<circle cx="384.3" cy="160.7" r="1.4" fill="#f8c8bb"/>
<circle cx="417.1" cy="164.9" r="1.5" fill="#f4b0a0"/>
<circle cx="388.9" cy="178.2" r="1.1" fill="#f6bcae"/>
<circle cx="399.6" cy="167.4" r="0.7" fill="#f8c8bb"/>
<circle cx="418.8" cy="164.6" r="1.2" fill="#f6bcae"/>
<circle cx="376.0" cy="161.3" r="1.6" fill="#f0a898"/>
<circle cx="409.3" cy="169.8" r="0.9" fill="#f8c8bb"/>
<circle cx="404.2" cy="178.7" r="1.4" fill="#f0a898"/>
<circle cx="449.9" cy="162.5" r="0.6" fill="#f4b0a0"/>
<circle cx="452.5" cy="165.4" r="0.6" fill="#f6bcae"/>
<circle cx="415.4" cy="177.0" r="1.1" fill="#f6bcae"/>
<circle cx="441.4" cy="171.5" r="1.6" fill="#f6bcae"/>
<circle cx="389.9" cy="169.8" r="1.3" fill="#f0a898"/>
<circle cx="401.4" cy="167.0" r="0.8" fill="#f4b0a0"/>
<circle cx="452.3" cy="161.7" r="0.6" fill="#f8c8bb"/>
<circle cx="448.0" cy="157.9" r="1.2" fill="#f6bcae"/>
<circle cx="439.2" cy="157.6" r="1.5" fill="#d86a58"/>
<circle cx="372.7" cy="159.9" r="1.4" fill="#f4b0a0"/>
<circle cx="425.5" cy="163.5" r="1.3" fill="#f6bcae"/>
<circle cx="408.0" cy="165.2" r="1.0" fill="#f8c8bb"/>
<circle cx="408.9" cy="160.5" r="0.9" fill="#f4b0a0"/>
<circle cx="445.7" cy="177.5" r="1.1" fill="#f4b0a0"/>
<circle cx="435.9" cy="160.2" r="1.5" fill="#f6bcae"/>
<circle cx="447.4" cy="176.9" r="1.6" fill="#f4b0a0"/>
<circle cx="434.2" cy="179.0" r="1.6" fill="#d86a58"/>
<circle cx="439.6" cy="171.3" r="1.1" fill="#f8c8bb"/>
<circle cx="395.4" cy="162.0" r="0.7" fill="#f8c8bb"/>
<circle cx="380.1" cy="161.7" r="0.7" fill="#d86a58"/>
<circle cx="415.0" cy="159.9" r="1.6" fill="#f8c8bb"/>
<circle cx="403.6" cy="162.3" r="0.6" fill="#f0a898"/>
<circle cx="439.4" cy="164.4" r="0.8" fill="#d86a58"/>
<circle cx="377.3" cy="167.2" r="1.1" fill="#f4b0a0"/>
<circle cx="451.2" cy="157.8" r="1.6" fill="#f4b0a0"/>
<circle cx="415.6" cy="176.1" r="0.7" fill="#f4b0a0"/>
<circle cx="450.5" cy="166.7" r="0.9" fill="#f4b0a0"/>
<circle cx="446.6" cy="158.8" r="0.9" fill="#f4b0a0"/>
<circle cx="372.9" cy="173.6" r="0.9" fill="#f6bcae"/>
<circle cx="405.6" cy="168.4" r="1.2" fill="#d86a58"/>
<circle cx="368.2" cy="176.1" r="1.2" fill="#f4b0a0"/>
<circle cx="398.6" cy="157.5" r="1.0" fill="#f8c8bb"/>
<circle cx="416.6" cy="159.7" r="0.8" fill="#f4b0a0"/>
<circle cx="428.5" cy="161.1" r="0.7" fill="#f6bcae"/>
<circle cx="443.6" cy="173.7" r="1.4" fill="#f4b0a0"/>
<circle cx="385.5" cy="170.9" r="1.4" fill="#f4b0a0"/>
<circle cx="417.5" cy="161.3" r="0.7" fill="#f0a898"/>
<circle cx="402.7" cy="173.5" r="0.7" fill="#f8c8bb"/>
<circle cx="396.5" cy="176.3" r="1.6" fill="#d86a58"/>
<circle cx="375.7" cy="166.1" r="1.4" fill="#f4b0a0"/>
<circle cx="442.1" cy="162.8" r="0.8" fill="#f8c8bb"/>
<circle cx="371.1" cy="173.0" r="1.2" fill="#f6bcae"/>
<circle cx="398.3" cy="178.4" r="1.7" fill="#f6bcae"/>
<circle cx="378.3" cy="173.3" r="1.5" fill="#f8c8bb"/>
<circle cx="434.2" cy="176.9" r="1.2" fill="#f6bcae"/>
<circle cx="392.8" cy="159.0" r="1.4" fill="#d86a58"/>
<circle cx="411.6" cy="169.0" r="1.2" fill="#f6bcae"/>
<circle cx="388.7" cy="158.6" r="1.3" fill="#f4b0a0"/>
<circle cx="376.7" cy="162.4" r="1.5" fill="#f6bcae"/>
<circle cx="369.7" cy="178.3" r="1.4" fill="#f8c8bb"/>
<circle cx="369.5" cy="170.6" r="1.2" fill="#f0a898"/>
<circle cx="388.3" cy="166.9" r="1.0" fill="#f6bcae"/>
<circle cx="429.0" cy="157.6" r="0.7" fill="#d86a58"/>
<circle cx="417.8" cy="174.4" r="0.7" fill="#f6bcae"/>
<circle cx="402.5" cy="159.7" r="1.3" fill="#f4b0a0"/>
<circle cx="380.5" cy="170.0" r="1.4" fill="#f4b0a0"/>
<circle cx="448.6" cy="156.9" r="1.3" fill="#d86a58"/>
<circle cx="418.7" cy="170.7" r="0.6" fill="#f6bcae"/>
<circle cx="434.0" cy="164.5" r="0.9" fill="#f8c8bb"/>
<circle cx="428.8" cy="176.3" r="1.2" fill="#f8c8bb"/>
<circle cx="437.3" cy="176.4" r="0.7" fill="#f0a898"/>
<circle cx="380.5" cy="172.5" r="1.0" fill="#d86a58"/>
<circle cx="424.4" cy="156.8" r="0.7" fill="#f4b0a0"/>
<circle cx="373.9" cy="166.7" r="1.2" fill="#f6bcae"/>
<circle cx="387.2" cy="166.4" r="1.0" fill="#d86a58"/>
<circle cx="421.8" cy="175.5" r="1.6" fill="#f6bcae"/>
<circle cx="370.9" cy="171.6" r="0.9" fill="#f0a898"/>
<circle cx="391.2" cy="169.2" r="1.6" fill="#f0a898"/>
<circle cx="376.5" cy="159.4" r="0.6" fill="#f4b0a0"/>
<circle cx="448.8" cy="163.3" r="0.9" fill="#f4b0a0"/>
<circle cx="378.2" cy="170.5" r="1.7" fill="#f0a898"/>
<circle cx="444.6" cy="158.5" r="1.2" fill="#f4b0a0"/>
<circle cx="405.4" cy="168.5" r="1.6" fill="#d86a58"/>
<circle cx="417.1" cy="162.9" r="1.4" fill="#f0a898"/>
<circle cx="392.4" cy="167.2" r="1.4" fill="#f4b0a0"/>
<circle cx="423.3" cy="161.2" r="1.4" fill="#d86a58"/>
<circle cx="443.8" cy="163.6" r="1.1" fill="#f8c8bb"/>
<circle cx="370.6" cy="164.3" r="0.8" fill="#f0a898"/>
<circle cx="400.6" cy="170.3" r="0.6" fill="#f8c8bb"/>
<circle cx="381.8" cy="178.9" r="1.0" fill="#f8c8bb"/>
<circle cx="409.8" cy="163.2" r="1.7" fill="#f8c8bb"/>
<circle cx="372.8" cy="157.0" r="1.2" fill="#f0a898"/>
<circle cx="442.1" cy="166.8" r="0.7" fill="#d86a58"/>
<circle cx="438.9" cy="164.8" r="1.4" fill="#f0a898"/>
<circle cx="387.1" cy="179.0" r="1.4" fill="#f4b0a0"/>
<circle cx="403.4" cy="172.2" r="0.8" fill="#f4b0a0"/>
<circle cx="420.4" cy="176.5" r="1.5" fill="#f0a898"/>
<circle cx="376.1" cy="176.6" r="1.6" fill="#d86a58"/>
<circle cx="390.8" cy="171.3" r="1.3" fill="#f4b0a0"/>
<circle cx="403.1" cy="158.9" r="1.1" fill="#f0a898"/>
<circle cx="417.8" cy="168.2" r="1.7" fill="#f0a898"/>
<circle cx="380.7" cy="176.5" r="0.9" fill="#f0a898"/>
<circle cx="419.6" cy="165.4" r="1.1" fill="#d86a58"/>
<circle cx="392.5" cy="164.8" r="1.0" fill="#f0a898"/>
<circle cx="415.2" cy="165.5" r="1.0" fill="#d86a58"/>
<circle cx="400.4" cy="163.6" r="1.2" fill="#f4b0a0"/>
<circle cx="405.0" cy="165.4" r="0.9" fill="#f8c8bb"/>
<circle cx="395.5" cy="176.3" r="1.5" fill="#f8c8bb"/>
<circle cx="385.4" cy="166.5" r="1.6" fill="#f6bcae"/>
<circle cx="370.2" cy="162.5" r="1.6" fill="#f8c8bb"/>
<circle cx="446.2" cy="174.7" r="1.2" fill="#d86a58"/>
<circle cx="412.0" cy="168.7" r="1.4" fill="#d86a58"/>
<circle cx="407.5" cy="157.5" r="1.3" fill="#d86a58"/>
<circle cx="448.6" cy="172.4" r="1.2" fill="#f6bcae"/>
<circle cx="402.8" cy="168.3" r="1.3" fill="#f0a898"/>
<circle cx="381.1" cy="160.9" r="1.1" fill="#d86a58"/>
<circle cx="405.4" cy="171.2" r="1.7" fill="#f8c8bb"/>
<circle cx="426.8" cy="174.0" r="0.7" fill="#f8c8bb"/>
<circle cx="395.0" cy="179.5" r="1.5" fill="#f0a898"/>
<circle cx="382.9" cy="171.9" r="0.9" fill="#f8c8bb"/>
<circle cx="437.7" cy="179.8" r="1.6" fill="#d86a58"/>
<circle cx="421.6" cy="168.8" r="1.5" fill="#f4b0a0"/>
<circle cx="410.9" cy="160.9" r="0.8" fill="#f0a898"/>
<circle cx="419.3" cy="164.8" r="1.7" fill="#f6bcae"/>
<circle cx="426.8" cy="156.8" r="0.6" fill="#f0a898"/>
<circle cx="368.3" cy="163.7" r="1.5" fill="#f0a898"/>
<circle cx="369.3" cy="157.2" r="0.8" fill="#f0a898"/>
<circle cx="416.2" cy="177.0" r="1.6" fill="#f0a898"/>
<circle cx="452.8" cy="170.0" r="1.1" fill="#f6bcae"/>
<circle cx="380.4" cy="168.7" r="1.2" fill="#f6bcae"/>
<circle cx="376.5" cy="160.5" r="1.2" fill="#d86a58"/>
<circle cx="420.1" cy="175.5" r="0.7" fill="#f6bcae"/>
<circle cx="426.2" cy="170.1" r="0.8" fill="#f4b0a0"/>
<circle cx="398.1" cy="160.5" r="0.9" fill="#f6bcae"/>
<circle cx="441.0" cy="178.8" r="0.7" fill="#f4b0a0"/>
<circle cx="406.2" cy="165.6" r="0.7" fill="#d86a58"/>
<circle cx="417.5" cy="179.1" r="1.1" fill="#f0a898"/>
<circle cx="388.3" cy="161.7" r="0.8" fill="#f0a898"/>
<circle cx="440.7" cy="163.9" r="1.6" fill="#d86a58"/>
<circle cx="393.8" cy="170.7" r="1.7" fill="#d86a58"/>
<circle cx="451.3" cy="158.1" r="1.3" fill="#f0a898"/>
<circle cx="386.8" cy="163.8" r="1.6" fill="#d86a58"/>
<circle cx="369.9" cy="176.9" r="0.7" fill="#f4b0a0"/>
<circle cx="398.5" cy="160.9" r="1.7" fill="#f8c8bb"/>
<circle cx="401.7" cy="165.0" r="1.0" fill="#d86a58"/>
<circle cx="396.5" cy="171.8" r="1.7" fill="#d86a58"/>
<circle cx="438.2" cy="164.8" r="0.9" fill="#f4b0a0"/>
<circle cx="407.7" cy="164.6" r="1.1" fill="#f8c8bb"/>
<circle cx="424.5" cy="164.5" r="0.8" fill="#f4b0a0"/>
<circle cx="375.9" cy="162.8" r="1.5" fill="#f4b0a0"/>
<circle cx="415.2" cy="167.5" r="1.5" fill="#f4b0a0"/>
<circle cx="381.5" cy="164.8" r="1.4" fill="#d86a58"/>
<circle cx="421.5" cy="170.1" r="0.9" fill="#d86a58"/>
<circle cx="410.9" cy="161.8" r="1.1" fill="#f4b0a0"/>
<circle cx="448.1" cy="180.0" r="1.3" fill="#d86a58"/>
<circle cx="417.9" cy="165.1" r="0.9" fill="#f0a898"/>
<circle cx="411.4" cy="159.4" r="1.4" fill="#f0a898"/>
<circle cx="375.8" cy="176.5" r="1.4" fill="#d86a58"/>
<circle cx="370.4" cy="173.4" r="0.8" fill="#f6bcae"/>
<circle cx="401.1" cy="158.5" r="0.8" fill="#f4b0a0"/>
<circle cx="395.3" cy="172.1" r="0.7" fill="#f0a898"/>
<circle cx="445.7" cy="175.4" r="1.4" fill="#f4b0a0"/>
<circle cx="373.6" cy="163.8" r="0.8" fill="#f4b0a0"/>
<circle cx="437.4" cy="165.9" r="1.0" fill="#d86a58"/>
<circle cx="433.9" cy="177.2" r="1.5" fill="#f4b0a0"/>
<circle cx="447.6" cy="160.6" r="1.0" fill="#f8c8bb"/>
<circle cx="444.2" cy="157.1" r="1.4" fill="#d86a58"/>
<circle cx="389.1" cy="176.4" r="1.0" fill="#f6bcae"/>
<circle cx="383.4" cy="159.2" r="1.6" fill="#f4b0a0"/>
<circle cx="428.6" cy="157.5" r="0.6" fill="#f4b0a0"/>
<circle cx="404.6" cy="174.3" r="0.8" fill="#f6bcae"/>
<circle cx="414.9" cy="171.3" r="1.6" fill="#f0a898"/>
<circle cx="439.4" cy="169.9" r="1.4" fill="#f8c8bb"/>
<circle cx="446.7" cy="172.2" r="1.2" fill="#f6bcae"/>
<circle cx="377.5" cy="174.4" r="1.3" fill="#f6bcae"/>
<circle cx="442.4" cy="170.3" r="1.4" fill="#f4b0a0"/>
<circle cx="425.9" cy="157.4" r="1.0" fill="#f8c8bb"/>
<circle cx="431.7" cy="158.5" r="1.4" fill="#d86a58"/>
<circle cx="452.8" cy="171.0" r="0.8" fill="#f0a898"/>
<circle cx="375.6" cy="178.7" r="1.1" fill="#f8c8bb"/>
<circle cx="426.8" cy="173.9" r="1.5" fill="#d86a58"/>
<circle cx="411.2" cy="172.4" r="0.8" fill="#f0a898"/>
<circle cx="440.0" cy="174.8" r="1.1" fill="#f4b0a0"/>
<circle cx="371.7" cy="173.0" r="1.5" fill="#f8c8bb"/>
<circle cx="382.8" cy="160.3" r="1.5" fill="#f4b0a0"/>
<circle cx="414.2" cy="162.4" r="0.7" fill="#f8c8bb"/>
<circle cx="397.5" cy="158.7" r="1.3" fill="#f4b0a0"/>
<circle cx="379.6" cy="173.1" r="1.3" fill="#f4b0a0"/>
<circle cx="428.0" cy="156.6" r="1.4" fill="#f4b0a0"/>
<circle cx="447.5" cy="164.8" r="0.9" fill="#f4b0a0"/>
<circle cx="417.9" cy="162.2" r="1.3" fill="#f6bcae"/>
<circle cx="414.6" cy="174.4" r="0.8" fill="#f4b0a0"/>
<circle cx="418.9" cy="167.3" r="1.4" fill="#f4b0a0"/>
<circle cx="377.7" cy="163.3" r="1.0" fill="#f4b0a0"/>
<circle cx="371.7" cy="177.6" r="0.9" fill="#f6bcae"/>
<circle cx="427.6" cy="167.0" r="0.7" fill="#f8c8bb"/>
<circle cx="405.8" cy="169.9" r="0.9" fill="#f0a898"/>
<circle cx="374.1" cy="156.8" r="1.7" fill="#d86a58"/>
<rect x="340" y="180.5" width="140" height="30" fill="#ed7750"/>
<path d="M378.0,198.0h0M442.6,194.5h0M379.8,192.7h0M403.3,185.9h0M411.1,181.7h0M438.2,196.3h0M417.2,203.0h0M419.0,187.3h0M389.7,184.7h0M374.0,199.3h0M432.4,188.3h0M385.4,196.2h0M432.9,202.8h0M384.1,199.5h0M431.8,198.6h0M395.5,185.7h0M431.4,188.9h0M398.5,194.2h0M398.6,200.6h0M389.2,182.4h0M412.8,195.9h0M431.0,197.7h0M437.2,203.2h0M407.6,193.0h0M383.3,188.4h0M413.8,183.3h0M421.5,185.3h0M403.9,203.8h0M378.5,182.4h0M403.6,185.9h0M424.1,181.6h0M432.5,201.2h0M428.7,191.3h0M392.4,196.7h0M409.1,191.2h0M396.4,191.6h0M420.0,200.5h0M437.1,185.3h0M393.3,191.7h0M412.6,189.5h0M386.1,183.5h0M395.3,192.1h0M441.9,202.4h0M434.3,203.9h0M441.3,195.8h0M430.4,182.9h0M420.7,195.5h0M393.4,194.6h0M440.6,192.6h0M418.6,188.4h0M396.7,201.9h0M374.0,185.8h0M420.9,191.8h0M378.1,196.7h0M398.8,194.9h0M402.0,193.7h0M412.7,190.6h0M380.2,185.7h0M436.1,194.1h0M380.1,201.3h0M390.3,183.7h0M410.2,187.3h0M407.2,194.2h0M388.3,194.7h0M380.1,193.3h0M414.4,183.3h0M401.4,183.2h0M403.6,201.4h0M411.6,197.9h0M426.5,184.1h0M443.3,198.1h0M379.4,200.6h0M400.2,185.4h0M441.1,194.4h0M427.8,184.6h0M427.9,182.8h0M389.1,190.1h0M373.1,195.2h0M387.3,188.4h0M422.9,191.3h0M436.0,195.8h0M434.8,194.4h0M438.1,201.5h0M384.1,198.6h0M396.6,199.1h0M421.0,200.5h0M380.8,190.1h0M425.1,203.3h0M424.0,182.5h0M415.5,183.8h0M411.5,200.0h0M380.1,202.8h0M420.6,187.4h0M385.9,191.8h0M432.3,194.9h0M380.2,182.0h0M380.0,199.9h0M385.3,194.2h0M392.9,197.3h0M399.4,184.8h0M435.0,193.9h0M421.6,200.1h0M440.3,181.8h0M396.7,185.0h0M408.1,201.6h0M429.6,182.3h0M385.1,200.3h0M420.9,190.5h0M406.3,185.1h0M432.8,190.5h0M434.9,195.5h0M377.5,189.1h0M387.6,202.1h0M414.4,182.5h0M384.2,189.8h0M405.7,194.8h0M399.9,189.6h0M372.4,194.8h0M396.0,182.0h0M405.1,204.2h0M375.3,184.9h0M420.3,187.8h0M391.7,193.0h0M390.9,194.6h0M410.0,203.5h0M443.4,182.3h0M412.4,199.2h0M434.8,199.3h0M417.6,196.1h0M398.1,188.0h0M429.3,201.6h0M439.6,197.2h0M393.9,199.1h0M425.2,193.2h0M417.7,189.6h0M411.7,190.8h0M376.4,189.3h0M395.3,204.2h0M406.7,189.9h0M389.5,186.9h0M397.1,184.6h0M372.5,201.5h0M404.6,191.7h0M412.9,188.5h0M384.2,183.0h0M393.7,188.6h0M424.3,194.2h0M439.5,189.3h0M438.3,194.9h0M377.8,185.6h0M413.8,204.2h0M397.7,199.3h0M402.8,201.5h0M376.9,192.6h0M436.7,187.8h0M390.5,182.0h0M383.8,187.7h0M422.7,186.5h0M400.8,186.1h0M415.4,201.4h0M418.7,186.0h0M424.8,203.7h0M415.3,183.3h0M430.3,201.6h0M396.6,184.6h0M385.5,193.8h0M435.0,196.2h0M438.4,186.4h0M395.5,198.7h0M418.7,190.8h0M420.9,189.3h0M376.1,191.0h0M375.3,195.9h0M396.1,192.9h0M415.0,187.4h0M405.4,181.8h0M438.6,194.5h0M443.1,182.8h0M416.2,198.2h0M395.7,183.6h0" stroke="#d8583a" stroke-width="1.3" stroke-linecap="round" fill="none"/>
<line x1="372" y1="182" x2="390" y2="181.5" stroke="#e2382c" stroke-width="0.9" opacity="0.8"/>
<line x1="415" y1="183" x2="432" y2="181.5" stroke="#e2382c" stroke-width="0.9" opacity="0.8"/>
<line x1="405" y1="199" x2="418" y2="195" stroke="#e2382c" stroke-width="0.9" opacity="0.8"/>
<line x1="422" y1="203" x2="436" y2="198" stroke="#e2382c" stroke-width="0.9" opacity="0.8"/>
<line x1="380" y1="202" x2="392" y2="204" stroke="#e2382c" stroke-width="0.9" opacity="0.8"/>
<line x1="440" y1="190" x2="446" y2="187" stroke="#e2382c" stroke-width="0.9" opacity="0.8"/>
<line x1="395" y1="190" x2="402" y2="188" stroke="#e2382c" stroke-width="0.9" opacity="0.8"/>
<path d="M340,44 L482,44 L478.0,55.3 L472.0,53.7 L466.0,54.7 L460.0,53.7 L454.0,55.3 L448.0,53.9 L442.0,54.7 L436.0,53.9 L430.0,55.1 L424.0,53.9 L418.0,54.7 L412.0,53.9 L406.0,54.8 L400.0,53.8 L394.0,55.0 L388.0,53.7 L382.0,55.0 L376.0,53.7 L370.0,54.8 L364.0,54.0 L358.0,54.6 L352.0,53.9 L346.0,54.6 L340.0,53.4 Z" fill="#d37b20"/>
<path d="M340,49 C365,47.5 390,50.5 420,48.5 S465,49.5 480,48.8" stroke="#e8a452" stroke-width="1.3" fill="none"/>
<path d="M340,46.6 C370,45.9 400,47.3 440,46.3 S470,46.7 480,46.5" stroke="#dc8a34" stroke-width="0.8" fill="none"/>
<path d="M340,51.6 C360,50.5 390,52.8 420,51 S462,52.5 480,51.4" stroke="#c2630f" stroke-width="1.0" fill="none"/>
</g>
<path d="M233.4,167.3 C246,149 288,137 312,168 C298,153 262,152.5 243.9,177.4 Z" fill="#ffffff" stroke="#231f20" stroke-width="1.1" stroke-linejoin="miter"/><path d="M312,168 C330,185 346,210 342.8,240.9 L347,244.6 L330.2,247.2 L325.5,225.2 L331.6,229.4 C334.5,208 328,186 312,168 Z" fill="#ffffff" stroke="#231f20" stroke-width="1.1" stroke-linejoin="miter"/>
<clipPath id="bclip"><path d="M319.4,298.0 C319.5,293.9 321.1,290.7 322.9,287.3 C324.7,283.9 327.0,281.2 330.0,277.8 C333.0,274.4 337.3,270.4 341.0,267.2 C344.7,264.0 346.7,261.5 352.0,258.6 C357.3,255.7 366.0,251.7 373.0,249.8 C380.0,247.9 387.8,247.1 394.0,247.0 C400.2,246.9 403.8,247.8 410.0,249.0 C416.2,250.2 424.0,252.2 431.0,254.2 C438.0,256.2 445.0,258.9 452.0,261.0 C459.0,263.1 467.5,265.1 473.0,266.8 C478.5,268.5 481.5,269.3 485.0,271.2 C488.5,273.1 491.1,275.2 494.0,278.3 C496.9,281.4 499.9,285.3 502.4,289.6 C504.8,293.9 507.0,299.4 508.7,304.3 C510.4,309.2 511.8,313.7 512.8,319.0 C513.8,324.3 514.5,331.2 514.8,336.0 C515.1,340.8 515.0,344.4 514.6,348.0 C514.2,351.6 513.8,355.2 512.5,357.5 C511.2,359.8 509.4,361.3 507.0,362.0 C504.6,362.7 502.0,362.4 498.0,361.5 C494.0,360.6 489.0,358.7 483.0,356.7 C477.0,354.7 467.8,351.7 462.0,349.3 C456.2,346.9 451.5,344.6 448.0,342.5 C444.5,340.4 442.9,339.4 441.0,336.7 C439.1,333.9 438.0,329.5 436.5,326.0 C435.0,322.5 433.7,318.3 432.0,315.5 C430.3,312.7 428.6,311.2 426.3,309.4 C424.0,307.6 421.1,305.8 418.0,304.5 C414.9,303.2 411.0,302.3 408.0,301.8 C405.0,301.3 402.6,301.2 400.0,301.3 C397.4,301.4 395.3,301.9 392.4,302.7 C389.5,303.5 386.0,304.6 382.8,306.1 C379.6,307.6 376.2,309.3 373.2,311.6 C370.2,313.9 367.8,316.8 365.0,319.8 C362.2,322.8 359.2,327.0 356.7,329.5 C354.2,332.0 352.1,333.9 349.8,335.0 C347.5,336.1 345.3,336.7 343.0,336.3 C340.7,335.9 338.4,334.9 336.1,332.9 C333.8,330.8 331.5,327.6 329.2,324.0 C326.9,320.4 324.0,315.9 322.4,311.6 C320.8,307.3 319.3,302.1 319.4,298.0Z"/></clipPath>
<path d="M319.4,298.0 C319.5,293.9 321.1,290.7 322.9,287.3 C324.7,283.9 327.0,281.2 330.0,277.8 C333.0,274.4 337.3,270.4 341.0,267.2 C344.7,264.0 346.7,261.5 352.0,258.6 C357.3,255.7 366.0,251.7 373.0,249.8 C380.0,247.9 387.8,247.1 394.0,247.0 C400.2,246.9 403.8,247.8 410.0,249.0 C416.2,250.2 424.0,252.2 431.0,254.2 C438.0,256.2 445.0,258.9 452.0,261.0 C459.0,263.1 467.5,265.1 473.0,266.8 C478.5,268.5 481.5,269.3 485.0,271.2 C488.5,273.1 491.1,275.2 494.0,278.3 C496.9,281.4 499.9,285.3 502.4,289.6 C504.8,293.9 507.0,299.4 508.7,304.3 C510.4,309.2 511.8,313.7 512.8,319.0 C513.8,324.3 514.5,331.2 514.8,336.0 C515.1,340.8 515.0,344.4 514.6,348.0 C514.2,351.6 513.8,355.2 512.5,357.5 C511.2,359.8 509.4,361.3 507.0,362.0 C504.6,362.7 502.0,362.4 498.0,361.5 C494.0,360.6 489.0,358.7 483.0,356.7 C477.0,354.7 467.8,351.7 462.0,349.3 C456.2,346.9 451.5,344.6 448.0,342.5 C444.5,340.4 442.9,339.4 441.0,336.7 C439.1,333.9 438.0,329.5 436.5,326.0 C435.0,322.5 433.7,318.3 432.0,315.5 C430.3,312.7 428.6,311.2 426.3,309.4 C424.0,307.6 421.1,305.8 418.0,304.5 C414.9,303.2 411.0,302.3 408.0,301.8 C405.0,301.3 402.6,301.2 400.0,301.3 C397.4,301.4 395.3,301.9 392.4,302.7 C389.5,303.5 386.0,304.6 382.8,306.1 C379.6,307.6 376.2,309.3 373.2,311.6 C370.2,313.9 367.8,316.8 365.0,319.8 C362.2,322.8 359.2,327.0 356.7,329.5 C354.2,332.0 352.1,333.9 349.8,335.0 C347.5,336.1 345.3,336.7 343.0,336.3 C340.7,335.9 338.4,334.9 336.1,332.9 C333.8,330.8 331.5,327.6 329.2,324.0 C326.9,320.4 324.0,315.9 322.4,311.6 C320.8,307.3 319.3,302.1 319.4,298.0Z" fill="#fbd5b8"/>
<g clip-path="url(#bclip)"><path d="M319.4,298.0 C319.5,293.9 321.1,290.7 322.9,287.3 C324.7,283.9 327.0,281.2 330.0,277.8 C333.0,274.4 337.3,270.4 341.0,267.2 C344.7,264.0 346.7,261.5 352.0,258.6 C357.3,255.7 366.0,251.7 373.0,249.8 C380.0,247.9 387.8,247.1 394.0,247.0 C400.2,246.9 403.8,247.8 410.0,249.0 C416.2,250.2 424.0,252.2 431.0,254.2 C438.0,256.2 445.0,258.9 452.0,261.0 C459.0,263.1 467.5,265.1 473.0,266.8 C478.5,268.5 481.5,269.3 485.0,271.2 C488.5,273.1 491.1,275.2 494.0,278.3 C496.9,281.4 499.9,285.3 502.4,289.6 C504.8,293.9 507.0,299.4 508.7,304.3 C510.4,309.2 511.8,313.7 512.8,319.0 C513.8,324.3 514.5,331.2 514.8,336.0 C515.1,340.8 515.0,344.4 514.6,348.0 C514.2,351.6 513.8,355.2 512.5,357.5 C511.2,359.8 509.4,361.3 507.0,362.0 C504.6,362.7 502.0,362.4 498.0,361.5 C494.0,360.6 489.0,358.7 483.0,356.7 C477.0,354.7 467.8,351.7 462.0,349.3 C456.2,346.9 451.5,344.6 448.0,342.5 C444.5,340.4 442.9,339.4 441.0,336.7 C439.1,333.9 438.0,329.5 436.5,326.0 C435.0,322.5 433.7,318.3 432.0,315.5 C430.3,312.7 428.6,311.2 426.3,309.4 C424.0,307.6 421.1,305.8 418.0,304.5 C414.9,303.2 411.0,302.3 408.0,301.8 C405.0,301.3 402.6,301.2 400.0,301.3 C397.4,301.4 395.3,301.9 392.4,302.7 C389.5,303.5 386.0,304.6 382.8,306.1 C379.6,307.6 376.2,309.3 373.2,311.6 C370.2,313.9 367.8,316.8 365.0,319.8 C362.2,322.8 359.2,327.0 356.7,329.5 C354.2,332.0 352.1,333.9 349.8,335.0 C347.5,336.1 345.3,336.7 343.0,336.3 C340.7,335.9 338.4,334.9 336.1,332.9 C333.8,330.8 331.5,327.6 329.2,324.0 C326.9,320.4 324.0,315.9 322.4,311.6 C320.8,307.3 319.3,302.1 319.4,298.0Z" fill="none" stroke="#fff3e6" stroke-width="12"/><path d="M319.4,298.0 C319.5,293.9 321.1,290.7 322.9,287.3 C324.7,283.9 327.0,281.2 330.0,277.8 C333.0,274.4 337.3,270.4 341.0,267.2 C344.7,264.0 346.7,261.5 352.0,258.6 C357.3,255.7 366.0,251.7 373.0,249.8 C380.0,247.9 387.8,247.1 394.0,247.0 C400.2,246.9 403.8,247.8 410.0,249.0 C416.2,250.2 424.0,252.2 431.0,254.2 C438.0,256.2 445.0,258.9 452.0,261.0 C459.0,263.1 467.5,265.1 473.0,266.8 C478.5,268.5 481.5,269.3 485.0,271.2 C488.5,273.1 491.1,275.2 494.0,278.3 C496.9,281.4 499.9,285.3 502.4,289.6 C504.8,293.9 507.0,299.4 508.7,304.3 C510.4,309.2 511.8,313.7 512.8,319.0 C513.8,324.3 514.5,331.2 514.8,336.0 C515.1,340.8 515.0,344.4 514.6,348.0 C514.2,351.6 513.8,355.2 512.5,357.5 C511.2,359.8 509.4,361.3 507.0,362.0 C504.6,362.7 502.0,362.4 498.0,361.5 C494.0,360.6 489.0,358.7 483.0,356.7 C477.0,354.7 467.8,351.7 462.0,349.3 C456.2,346.9 451.5,344.6 448.0,342.5 C444.5,340.4 442.9,339.4 441.0,336.7 C439.1,333.9 438.0,329.5 436.5,326.0 C435.0,322.5 433.7,318.3 432.0,315.5 C430.3,312.7 428.6,311.2 426.3,309.4 C424.0,307.6 421.1,305.8 418.0,304.5 C414.9,303.2 411.0,302.3 408.0,301.8 C405.0,301.3 402.6,301.2 400.0,301.3 C397.4,301.4 395.3,301.9 392.4,302.7 C389.5,303.5 386.0,304.6 382.8,306.1 C379.6,307.6 376.2,309.3 373.2,311.6 C370.2,313.9 367.8,316.8 365.0,319.8 C362.2,322.8 359.2,327.0 356.7,329.5 C354.2,332.0 352.1,333.9 349.8,335.0 C347.5,336.1 345.3,336.7 343.0,336.3 C340.7,335.9 338.4,334.9 336.1,332.9 C333.8,330.8 331.5,327.6 329.2,324.0 C326.9,320.4 324.0,315.9 322.4,311.6 C320.8,307.3 319.3,302.1 319.4,298.0Z" fill="none" stroke="#f6b670" stroke-width="10"/></g>
<path d="M319.4,298.0 C319.5,293.9 321.1,290.7 322.9,287.3 C324.7,283.9 327.0,281.2 330.0,277.8 C333.0,274.4 337.3,270.4 341.0,267.2 C344.7,264.0 346.7,261.5 352.0,258.6 C357.3,255.7 366.0,251.7 373.0,249.8 C380.0,247.9 387.8,247.1 394.0,247.0 C400.2,246.9 403.8,247.8 410.0,249.0 C416.2,250.2 424.0,252.2 431.0,254.2 C438.0,256.2 445.0,258.9 452.0,261.0 C459.0,263.1 467.5,265.1 473.0,266.8 C478.5,268.5 481.5,269.3 485.0,271.2 C488.5,273.1 491.1,275.2 494.0,278.3 C496.9,281.4 499.9,285.3 502.4,289.6 C504.8,293.9 507.0,299.4 508.7,304.3 C510.4,309.2 511.8,313.7 512.8,319.0 C513.8,324.3 514.5,331.2 514.8,336.0 C515.1,340.8 515.0,344.4 514.6,348.0 C514.2,351.6 513.8,355.2 512.5,357.5 C511.2,359.8 509.4,361.3 507.0,362.0 C504.6,362.7 502.0,362.4 498.0,361.5 C494.0,360.6 489.0,358.7 483.0,356.7 C477.0,354.7 467.8,351.7 462.0,349.3 C456.2,346.9 451.5,344.6 448.0,342.5 C444.5,340.4 442.9,339.4 441.0,336.7 C439.1,333.9 438.0,329.5 436.5,326.0 C435.0,322.5 433.7,318.3 432.0,315.5 C430.3,312.7 428.6,311.2 426.3,309.4 C424.0,307.6 421.1,305.8 418.0,304.5 C414.9,303.2 411.0,302.3 408.0,301.8 C405.0,301.3 402.6,301.2 400.0,301.3 C397.4,301.4 395.3,301.9 392.4,302.7 C389.5,303.5 386.0,304.6 382.8,306.1 C379.6,307.6 376.2,309.3 373.2,311.6 C370.2,313.9 367.8,316.8 365.0,319.8 C362.2,322.8 359.2,327.0 356.7,329.5 C354.2,332.0 352.1,333.9 349.8,335.0 C347.5,336.1 345.3,336.7 343.0,336.3 C340.7,335.9 338.4,334.9 336.1,332.9 C333.8,330.8 331.5,327.6 329.2,324.0 C326.9,320.4 324.0,315.9 322.4,311.6 C320.8,307.3 319.3,302.1 319.4,298.0Z" fill="none" stroke="#d97f1e" stroke-width="2.6"/>
<path d="M358.3,293.9 C358.6,292.0 361.5,288.4 364.0,286.0 C366.5,283.6 368.7,281.4 373.3,279.2 C377.9,276.9 385.5,274.2 391.6,272.5 C397.7,270.8 403.9,269.4 410.0,269.2 C416.1,268.9 422.2,269.2 428.3,271.0 C434.4,272.8 441.1,276.8 446.6,280.2 C452.1,283.6 457.4,288.1 461.3,291.1 C465.2,294.1 467.9,296.0 470.0,298.0 C472.1,300.0 473.9,301.8 474.1,303.0 C474.3,304.2 472.5,305.2 471.0,305.5 C469.5,305.8 469.1,306.4 465.0,304.9 C460.9,303.4 452.7,299.2 446.6,296.6 C440.5,294.0 434.4,291.0 428.3,289.3 C422.2,287.6 416.1,286.6 410.0,286.6 C403.9,286.6 397.7,287.9 391.6,289.3 C385.5,290.7 378.2,293.4 373.3,294.8 C368.4,296.2 364.8,297.8 362.3,297.6 C359.8,297.5 358.0,295.8 358.3,293.9Z" fill="#f3a08e" stroke="#fff1e8" stroke-width="1.3"/>
<path d="M366.9,292.1 C367.1,291.2 370.4,288.7 373.0,287.0 C375.6,285.3 377.9,283.7 382.5,282.0 C387.1,280.3 394.7,278.0 400.8,276.9 C406.9,275.8 413.0,275.2 419.1,275.6 C425.2,276.0 431.9,277.2 437.4,279.2 C442.9,281.2 448.0,285.0 452.1,287.5 C456.2,290.0 459.4,292.0 462.0,294.0 C464.6,296.0 467.5,298.4 467.7,299.4 C467.9,300.4 465.0,300.1 463.0,299.8 C461.0,299.5 460.1,299.7 455.8,297.6 C451.5,295.6 443.5,290.0 437.4,287.5 C431.3,285.0 425.2,283.1 419.1,282.4 C413.0,281.7 406.9,282.5 400.8,283.5 C394.7,284.5 387.3,286.9 382.5,288.4 C377.7,289.9 374.6,291.9 372.0,292.5 C369.4,293.1 366.7,293.0 366.9,292.1Z" fill="#d0222a" stroke="#e2504c" stroke-width="0.6"/>
<defs>
<radialGradient id="kidR" cx="0.42" cy="0.5" r="0.62">
<stop offset="0" stop-color="#d08584"/><stop offset="0.6" stop-color="#d38987"/><stop offset="0.8" stop-color="#d58c8a"/><stop offset="0.9" stop-color="#db9a98"/><stop offset="1" stop-color="#c47474"/>
</radialGradient>
<radialGradient id="kidL" cx="0.58" cy="0.5" r="0.62">
<stop offset="0" stop-color="#d08584"/><stop offset="0.6" stop-color="#d38987"/><stop offset="0.8" stop-color="#d58c8a"/><stop offset="0.9" stop-color="#db9a98"/><stop offset="1" stop-color="#c47474"/>
</radialGradient>
<linearGradient id="aorta" x1="0" y1="0" x2="1" y2="0">
<stop offset="0" stop-color="#d21c1e"/><stop offset="0.12" stop-color="#e24838"/><stop offset="0.3" stop-color="#d62022"/><stop offset="1" stop-color="#c81a1e"/>
</linearGradient>
<linearGradient id="ivc" x1="0" y1="0" x2="1" y2="0">
<stop offset="0" stop-color="#2a3c98"/><stop offset="0.2" stop-color="#3549a8"/><stop offset="0.35" stop-color="#2d409e"/><stop offset="1" stop-color="#273791"/>
</linearGradient>
<pattern id="speck" width="16" height="16" patternUnits="userSpaceOnUse"><rect width="16" height="16" fill="#e28c1d"/><circle cx="7.2" cy="9.0" r="2.12" fill="#d8831b" opacity="0.8"/><circle cx="7.5" cy="8.1" r="1.79" fill="#d8831b" opacity="0.8"/><circle cx="3.0" cy="8.2" r="1.83" fill="#d8831b" opacity="0.8"/><circle cx="12.7" cy="1.5" r="1.50" fill="#d8831b" opacity="0.8"/><circle cx="1.5" cy="13.0" r="1.89" fill="#d8831b" opacity="0.8"/><circle cx="0.7" cy="15.7" r="0.64" fill="#b86a15"/><circle cx="10.5" cy="9.8" r="0.40" fill="#b86a15"/><circle cx="0.2" cy="8.5" r="0.37" fill="#b86a15"/><circle cx="3.0" cy="3.9" r="0.36" fill="#b86a15"/><circle cx="7.4" cy="7.0" r="0.60" fill="#b86a15"/><circle cx="8.3" cy="10.2" r="0.50" fill="#b86a15"/><circle cx="10.6" cy="7.3" r="0.43" fill="#b86a15"/><circle cx="16.0" cy="15.9" r="0.60" fill="#b86a15"/><circle cx="11.3" cy="5.0" r="0.42" fill="#b86a15"/><circle cx="4.6" cy="1.1" r="0.58" fill="#b86a15"/><circle cx="6.4" cy="13.5" r="0.47" fill="#b86a15"/><circle cx="15.3" cy="13.6" r="0.35" fill="#b86a15"/><circle cx="3.4" cy="14.6" r="0.49" fill="#b86a15"/><circle cx="15.7" cy="6.4" r="0.37" fill="#b86a15"/><circle cx="10.1" cy="12.5" r="0.43" fill="#b86a15"/><circle cx="1.4" cy="5.3" r="0.64" fill="#b86a15"/><circle cx="12.1" cy="1.9" r="0.42" fill="#b86a15"/><circle cx="1.6" cy="1.0" r="0.59" fill="#b86a15"/><circle cx="2.8" cy="8.9" r="0.58" fill="#f0a83c"/><circle cx="3.1" cy="11.7" r="0.45" fill="#f0a83c"/><circle cx="10.3" cy="1.9" r="0.57" fill="#f0a83c"/><circle cx="3.4" cy="4.3" r="0.79" fill="#f0a83c"/><circle cx="12.9" cy="4.9" r="0.75" fill="#f0a83c"/><circle cx="3.4" cy="6.3" r="0.74" fill="#f0a83c"/></pattern>
</defs>
<path d="M125.8,169 L127.2,210 L131.5,320 L148.7,320 L144.1,169 Z" fill="url(#aorta)"/>
<path d="M128.3,169 L131.3,169 L141.6,318 L138.9,318 Z" fill="#e4473b" opacity="0.75"/>
<path d="M144.1,169 C144.1,215 144,225 144.6,250 L148.7,320 L146,320 L142,240 Z" fill="#c4181c" opacity="0.6"/>
<ellipse cx="134.95" cy="169" rx="9.15" ry="2.4" fill="#d62022"/>
<ellipse cx="143.4" cy="321.5" rx="5.4" ry="4.3" fill="#c01820"/>
<ellipse cx="143.3" cy="320" rx="5.1" ry="4.1" fill="#cf1d24" stroke="#f06a68" stroke-width="1"/>
<path d="M86,226.6 L111,229.4 L111,235.6 L86,241.6 Z" fill="#d8262c"/><path d="M86,234.2 L99,233.4" stroke="#eef3fa" stroke-width="1.3"/>
<path d="M140,211 L154,212.5 L161,208 L163.5,210.5 L158.5,215 L167,215 L167,218.5 L159,219 L166,222.5 L164.5,225.5 L154,220.5 L140,220 Z" fill="#d8262c"/>
<path d="M32.7,193.4 C29.6,197.0 25.8,202.7 23.4,209.4 C20.9,216.1 19.1,225.8 18.0,233.4 C16.9,241.0 16.2,247.7 16.7,254.8 C17.1,261.9 18.7,270.0 20.7,276.2 C22.7,282.4 25.1,287.8 28.7,292.2 C32.2,296.6 37.1,300.4 42.0,302.9 C46.9,305.3 52.8,306.5 58.1,306.9 C63.5,307.3 70.1,306.3 74.1,305.5 C78.1,304.7 80.0,303.4 82.0,302.0 C84.0,300.6 85.1,299.2 86.3,297.0 C87.5,294.8 88.7,292.7 89.3,289.0 C89.9,285.3 90.0,279.5 89.7,275.0 C89.4,270.5 88.5,265.4 87.4,262.0 C86.3,258.6 83.4,257.2 83.0,254.5 C82.6,251.8 84.7,249.2 85.1,246.0 C85.5,242.8 85.4,238.2 85.6,235.0 C85.8,231.8 85.4,229.0 86.3,226.5 C87.2,224.0 89.6,222.8 90.9,220.0 C92.2,217.2 93.8,213.2 94.3,210.0 C94.8,206.8 94.7,203.7 94.0,201.0 C93.3,198.3 92.3,196.2 90.0,194.0 C87.7,191.8 85.0,189.5 80.0,188.0 C75.0,186.5 66.3,185.0 60.0,185.0 C53.7,185.0 46.5,186.6 42.0,188.0 C37.5,189.4 35.8,189.8 32.7,193.4Z" fill="url(#kidR)"/>
<path d="M180.5,172.9 C185.3,170.8 190.6,168.6 195.7,168.3 C200.8,168.0 206.4,169.3 211.0,171.3 C215.6,173.3 219.6,176.4 223.2,180.5 C226.8,184.6 229.8,189.6 232.3,195.7 C234.8,201.8 236.9,209.5 238.4,217.1 C239.9,224.7 241.0,234.4 241.5,241.5 C242.0,248.6 242.0,254.2 241.5,259.8 C241.0,265.4 240.4,269.9 238.4,275.0 C236.4,280.1 232.9,286.4 229.3,290.2 C225.8,294.0 221.7,296.4 217.1,297.9 C212.5,299.4 206.9,299.9 201.8,299.4 C196.7,298.9 190.9,296.9 186.6,294.8 C182.3,292.7 178.8,289.8 176.0,287.0 C173.2,284.2 171.3,281.7 170.0,278.0 C168.7,274.3 168.2,268.8 167.9,265.0 C167.7,261.2 168.0,257.8 168.5,255.0 C169.0,252.2 170.0,249.9 171.0,248.0 C172.0,246.1 174.6,245.3 174.3,243.5 C174.1,241.7 170.8,239.4 169.5,237.0 C168.2,234.6 167.0,232.0 166.6,229.0 C166.2,226.0 166.4,222.0 166.8,219.0 C167.2,216.0 169.9,213.1 169.1,211.0 C168.3,208.9 163.6,208.5 162.0,206.5 C160.4,204.5 159.6,201.8 159.3,199.0 C159.1,196.2 159.2,193.0 160.5,190.0 C161.8,187.0 163.7,183.8 167.0,181.0 C170.3,178.2 175.7,175.0 180.5,172.9Z" fill="url(#kidL)"/>
<clipPath id="ckl"><path d="M180.5,172.9 C185.3,170.8 190.6,168.6 195.7,168.3 C200.8,168.0 206.4,169.3 211.0,171.3 C215.6,173.3 219.6,176.4 223.2,180.5 C226.8,184.6 229.8,189.6 232.3,195.7 C234.8,201.8 236.9,209.5 238.4,217.1 C239.9,224.7 241.0,234.4 241.5,241.5 C242.0,248.6 242.0,254.2 241.5,259.8 C241.0,265.4 240.4,269.9 238.4,275.0 C236.4,280.1 232.9,286.4 229.3,290.2 C225.8,294.0 221.7,296.4 217.1,297.9 C212.5,299.4 206.9,299.9 201.8,299.4 C196.7,298.9 190.9,296.9 186.6,294.8 C182.3,292.7 178.8,289.8 176.0,287.0 C173.2,284.2 171.3,281.7 170.0,278.0 C168.7,274.3 168.2,268.8 167.9,265.0 C167.7,261.2 168.0,257.8 168.5,255.0 C169.0,252.2 170.0,249.9 171.0,248.0 C172.0,246.1 174.6,245.3 174.3,243.5 C174.1,241.7 170.8,239.4 169.5,237.0 C168.2,234.6 167.0,232.0 166.6,229.0 C166.2,226.0 166.4,222.0 166.8,219.0 C167.2,216.0 169.9,213.1 169.1,211.0 C168.3,208.9 163.6,208.5 162.0,206.5 C160.4,204.5 159.6,201.8 159.3,199.0 C159.1,196.2 159.2,193.0 160.5,190.0 C161.8,187.0 163.7,183.8 167.0,181.0 C170.3,178.2 175.7,175.0 180.5,172.9Z"/></clipPath>
<filter id="bl5" x="-50%" y="-50%" width="200%" height="200%"><feGaussianBlur stdDeviation="5"/></filter>
<filter id="bl3" x="-50%" y="-50%" width="200%" height="200%"><feGaussianBlur stdDeviation="2.5"/></filter>
<g clip-path="url(#ckl)"><ellipse cx="214" cy="265" rx="20" ry="28" fill="#bd6e6f" opacity="0.55" filter="url(#bl5)"/><ellipse cx="216" cy="212" rx="5" ry="24" fill="#e3a7a6" opacity="0.55" filter="url(#bl3)"/></g>
<ellipse cx="74" cy="240" rx="12" ry="13" fill="#d99594" opacity="0.45"/>
<ellipse cx="77" cy="279" rx="12" ry="17" fill="#d99594" opacity="0.35"/>
<ellipse cx="180" cy="229" rx="11" ry="13" fill="#d99594" opacity="0.45"/>
<ellipse cx="182" cy="268" rx="13" ry="18" fill="#d99594" opacity="0.35"/>
<path d="M86.3,226.5 Q76,221 64,224" fill="none" stroke="#b66566" stroke-width="0.9" opacity="0.7"/>
<path d="M83,254.5 Q74,252 66,257" fill="none" stroke="#b66566" stroke-width="0.9" opacity="0.7"/>
<path d="M169.1,211 Q178,209 187,212" fill="none" stroke="#b66566" stroke-width="0.9" opacity="0.7"/>
<path d="M174.3,243.5 Q183,241 192,244" fill="none" stroke="#b66566" stroke-width="0.9" opacity="0.7"/>
<path d="M81.7,214 Q86,210 87.4,203.7" fill="none" stroke="#fdf0ee" stroke-width="1.5" stroke-linecap="round" opacity="0.9"/>
<path d="M65,228 Q72,224 79.4,225.4" fill="none" stroke="#fdf0ee" stroke-width="1.5" stroke-linecap="round" opacity="0.9"/>
<path d="M70.3,266.6 Q72,260 77.1,258.6" fill="none" stroke="#fdf0ee" stroke-width="1.5" stroke-linecap="round" opacity="0.9"/>
<path d="M162.5,209 Q161.5,203 164.5,197.5" fill="none" stroke="#fdf0ee" stroke-width="1.5" stroke-linecap="round" opacity="0.9"/>
<path d="M170,233 Q168,226 171.5,219.5" fill="none" stroke="#fdf0ee" stroke-width="1.5" stroke-linecap="round" opacity="0.9"/>
<path d="M171,252 Q174,246 180.7,244.7" fill="none" stroke="#fdf0ee" stroke-width="1.5" stroke-linecap="round" opacity="0.9"/>
<path d="M30,205 Q36,198 42,196" fill="none" stroke="#fdf0ee" stroke-width="1.1" stroke-linecap="round" opacity="0.5"/>
<path d="M93.5,132.7 C95.8,131.7 98.7,130.8 100.4,131.0 C102.1,131.2 103.0,131.7 103.8,133.6 C104.6,135.5 104.9,138.8 105.5,142.2 C106.1,145.6 106.9,150.2 107.3,154.2 C107.7,158.2 108.1,162.7 108.1,166.2 C108.0,169.7 107.4,172.4 107.0,175.0 C106.6,177.6 106.2,179.2 105.5,181.7 C104.8,184.2 103.8,187.4 103.0,190.0 C102.2,192.6 101.2,194.8 100.5,197.0 C99.8,199.2 99.2,201.3 98.5,203.0 C97.8,204.7 97.1,206.8 96.1,207.4 C95.1,208.0 93.7,207.1 92.7,206.5 C91.7,205.9 91.1,205.6 90.1,204.0 C89.1,202.4 88.1,199.4 86.7,197.1 C85.3,194.8 83.5,192.0 81.5,190.2 C79.5,188.3 77.5,187.0 74.6,186.0 C71.7,185.0 68.3,184.3 64.3,184.2 C60.3,184.0 54.6,184.8 50.6,185.1 C46.6,185.4 42.4,186.2 40.3,186.0 C38.1,185.8 38.0,185.1 37.7,184.2 C37.4,183.3 37.9,182.2 38.6,180.8 C39.3,179.4 40.6,177.2 42.0,175.6 C43.4,174.0 45.2,173.0 47.2,171.4 C49.2,169.8 51.7,167.8 54.0,166.2 C56.3,164.6 58.8,163.8 60.9,161.9 C63.0,160.0 64.9,156.8 66.9,155.0 C68.9,153.2 70.8,152.7 72.9,150.8 C75.1,149.0 77.5,146.2 79.8,143.9 C82.1,141.6 84.4,138.9 86.7,137.0 C89.0,135.1 91.2,133.7 93.5,132.7Z" fill="url(#speck)" stroke="#bf721a" stroke-width="1"/>
<path d="M48,176.5 C52,174.5 60,170.5 67.8,168.8 C73,167.8 78,167.6 82,168.5 C86,169.5 89,172 91.8,174.8" fill="none" stroke="#bb6e18" stroke-width="1.2"/>
<path d="M100.4,137 C100,143 99.5,147 98.7,150.8 C97.5,156 96.5,160 95.2,162.8 C94,165.5 92.5,167.8 91,169.6" fill="none" stroke="#bb6e18" stroke-width="1.2"/>
<path d="M159.5,142.6 C161.9,139.9 165.0,138.2 168.2,136.8 C171.3,135.4 175.0,134.3 178.4,133.9 C181.8,133.5 185.6,134.1 188.5,134.6 C191.4,135.1 193.4,135.7 195.8,136.8 C198.2,137.9 200.8,139.2 203.0,141.1 C205.2,143.0 207.2,146.0 208.8,148.4 C210.4,150.8 211.5,153.2 212.4,155.6 C213.3,158.0 214.2,160.8 214.3,163.0 C214.4,165.2 214.6,167.5 213.0,168.5 C211.4,169.5 207.7,168.7 205.0,168.8 C202.3,168.9 199.8,168.9 197.0,169.2 C194.2,169.5 190.8,169.9 188.0,170.8 C185.2,171.7 182.7,172.9 180.0,174.5 C177.3,176.1 174.3,178.3 172.0,180.5 C169.7,182.7 167.7,185.1 166.0,187.5 C164.3,189.9 163.1,192.9 162.0,195.0 C160.9,197.1 160.7,198.9 159.5,200.0 C158.3,201.1 156.4,202.0 155.0,201.5 C153.6,201.0 152.1,199.4 151.0,197.0 C149.9,194.6 149.0,190.4 148.6,187.0 C148.2,183.6 148.2,181.1 148.6,176.8 C149.0,172.5 150.0,165.4 150.8,161.4 C151.7,157.4 152.2,155.8 153.7,152.7 C155.1,149.6 157.1,145.2 159.5,142.6Z" fill="url(#speck)" stroke="#bf721a" stroke-width="1"/>
<path d="M171.8,151.3 C176,148.5 179,147 182.7,146.2 C187,145.5 192.9,145.5 196,146.5 C200,147.5 206,151.5 210.3,154.9" fill="none" stroke="#bb6e18" stroke-width="1.2"/>
<path d="M74.0,112.6 C74.8,113.3 77.4,114.9 79.0,117.0 C80.6,119.1 82.2,122.2 83.5,125.0 C84.8,127.8 86.0,132.5 86.5,134.0" fill="none" stroke="#d21c24" stroke-width="2.2" stroke-linecap="round"/>
<path d="M44.5,132.0 C44.8,133.3 45.0,137.7 46.4,140.0 C47.8,142.3 50.5,144.4 52.9,146.1 C55.2,147.8 58.0,148.8 60.5,149.9 C63.0,151.1 66.9,152.5 68.2,153.0" fill="none" stroke="#d21c24" stroke-width="2.2" stroke-linecap="round"/>
<path d="M35.0,153.0 C35.8,153.8 37.5,156.3 39.9,157.6 C42.2,158.9 45.9,160.2 49.1,161.0 C52.3,161.8 56.5,161.8 59.0,162.5 C61.5,163.2 62.8,164.2 64.4,165.2 C66.0,166.2 67.8,168.0 68.5,168.6" fill="none" stroke="#d21c24" stroke-width="2.2" stroke-linecap="round"/>
<path d="M152.5,123.0 C152.7,124.3 153.1,128.5 153.7,131.0 C154.3,133.5 154.9,136.1 155.9,138.2 C156.9,140.2 158.9,142.5 159.5,143.3" fill="none" stroke="#d21c24" stroke-width="2.2" stroke-linecap="round"/>
<path d="M173.3,124.4 C172.9,125.2 171.7,127.4 171.1,129.5 C170.5,131.6 169.9,134.4 169.9,136.8 C169.9,139.2 170.4,141.8 171.1,144.0 C171.8,146.2 173.5,148.8 174.0,149.8" fill="none" stroke="#d21c24" stroke-width="2.2" stroke-linecap="round"/>
<path d="M205.9,120.5 C205.3,121.5 204.2,123.9 202.3,126.6 C200.4,129.3 195.6,135.1 194.3,136.8" fill="none" stroke="#d21c24" stroke-width="2.2" stroke-linecap="round"/>
<path d="M233.8,151.3 C232.1,151.5 227.0,152.0 223.3,152.4 C219.6,152.8 213.6,153.7 211.7,153.9" fill="none" stroke="#d21c24" stroke-width="2.2" stroke-linecap="round"/>
<path d="M104.3,169 L119.5,323 L137.9,323 L122.9,169 Z" fill="url(#ivc)"/>
<ellipse cx="113.6" cy="169" rx="9.3" ry="2.5" fill="#2f42a0"/>
<ellipse cx="128.8" cy="325.6" rx="9.2" ry="4.4" fill="#23338a"/>
<ellipse cx="128.7" cy="323.6" rx="8.8" ry="4.2" fill="#2a3b94" stroke="#4d63c6" stroke-width="1"/>
<path d="M91.8,169.6 C92.5,170.5 94.8,172.5 96.1,174.8 C97.4,177.1 98.5,179.7 99.5,183.4 C100.5,187.1 101.5,192.3 102.1,197.1 C102.7,201.9 102.7,207.8 103.0,212.0 C103.3,216.2 103.3,218.9 103.8,222.0 C104.3,225.1 104.8,228.2 106.0,230.5 C107.2,232.8 110.2,235.1 111.0,236.0" fill="none" stroke="#2b3d9b" stroke-width="5.2" stroke-linecap="round" stroke-linejoin="round"/>
<path d="M110,237 L86.5,249.1 L86.5,253.6 L112,244 Z" fill="#2b3d9b"/>
<path d="M171.5,158.7 C170.1,160.8 165.1,167.1 162.9,171.1 C160.7,175.1 159.4,178.4 158.1,182.5 C156.8,186.6 155.8,191.8 155.0,195.9 C154.2,200.0 153.7,203.6 153.0,207.0 C152.3,210.4 151.3,214.9 151.0,216.5" fill="none" stroke="#2b3d9b" stroke-width="4.2" stroke-linecap="round" stroke-linejoin="round"/>
<path d="M125,216.9 L151,216.9 L168.1,227.8 L166.9,235.2 L148.6,223.8 L126,223.8 Z" fill="#2b3d9b"/>
<line x1="90.8" y1="108.4" x2="94" y2="133.6" stroke="#231f20" stroke-width="1.15"/>
<line x1="206.8" y1="138.6" x2="196.3" y2="150.1" stroke="#231f20" stroke-width="1.15"/>
<line x1="214.3" y1="274.8" x2="232.1" y2="300.2" stroke="#231f20" stroke-width="1.15"/>
<line x1="153.4" y1="226.7" x2="163.5" y2="308.2" stroke="#231f20" stroke-width="1.15"/>
<line x1="144.2" y1="305.4" x2="156.3" y2="340.1" stroke="#231f20" stroke-width="1.15"/>
<line x1="127.7" y1="313.4" x2="130.9" y2="353.5" stroke="#231f20" stroke-width="1.15"/>
<line x1="54.8" y1="296" x2="44.7" y2="318.9" stroke="#231f20" stroke-width="1.15"/>
<line x1="99.1" y1="235.4" x2="84.4" y2="339.8" stroke="#231f20" stroke-width="1.15"/>
<line x1="103.4" y1="240.1" x2="97.7" y2="353.7" stroke="#231f20" stroke-width="1.15"/>
<line x1="304.5" y1="35.3" x2="408.2" y2="279.4" stroke="#231f20" stroke-width="1.2"/>
<line x1="521.2" y1="35.3" x2="408.2" y2="279.4" stroke="#231f20" stroke-width="1.2"/>
<line x1="453.5" y1="29.5" x2="437.5" y2="46.5" stroke="#231f20" stroke-width="1.15"/>
<line x1="499.9" y1="260.9" x2="482.9" y2="269" stroke="#231f20" stroke-width="1.15"/>
<line x1="516" y1="284.3" x2="499.7" y2="290.4" stroke="#231f20" stroke-width="1.15"/>
<line x1="524.1" y1="316.3" x2="490.5" y2="320.9" stroke="#231f20" stroke-width="1.15"/>
<line x1="392.8" y1="283.6" x2="402.4" y2="345.5" stroke="#231f20" stroke-width="1.15"/>
<line x1="444.4" y1="295" x2="454" y2="364.4" stroke="#231f20" stroke-width="1.15"/>
<path d="M471.8,52.4 H491.5 V75.2 H467.5" fill="none" stroke="#231f20" stroke-width="1.1"/>
<path d="M467.5,75.2 H491.5 V155.9 H448.3" fill="none" stroke="#231f20" stroke-width="1.1"/>
<line x1="467" y1="75.4" x2="491.5" y2="75.4" stroke="#231f20" stroke-width="2.0"/>
<line x1="448" y1="156.2" x2="491.5" y2="156.2" stroke="#231f20" stroke-width="2.0"/>
<path d="M448.3,155.9 H491.5 V180.3 H442.3" fill="none" stroke="#231f20" stroke-width="1.1"/>
<path d="M442.3,182.5 H491.5 V204.8 H437.2" fill="none" stroke="#231f20" stroke-width="1.1"/>
<line x1="491.5" y1="63.2" x2="513.7" y2="63.2" stroke="#231f20" stroke-width="1.15"/>
<line x1="491.5" y1="115" x2="513.7" y2="115" stroke="#231f20" stroke-width="1.15"/>
<line x1="491.5" y1="168.2" x2="513.8" y2="168.2" stroke="#231f20" stroke-width="1.15"/>
<line x1="491.5" y1="193.3" x2="513.8" y2="193.3" stroke="#231f20" stroke-width="1.15"/>
<path d="M585,49.3 H619.4 V178 H585" fill="none" stroke="#231f20" stroke-width="1.1"/>
<line x1="619.4" y1="110.3" x2="626.7" y2="110.3" stroke="#231f20" stroke-width="1.15"/>
<g font-family="Liberation Sans, sans-serif" stroke="#231f20" stroke-width="0.3"><text x="91.32" y="81.90" font-size="13.4" font-weight="bold" textLength="11.53" lengthAdjust="spacingAndGlyphs" fill="#231f20">a)</text>
<text x="302.92" y="261.50" font-size="13.4" font-weight="bold" textLength="11.17" lengthAdjust="spacingAndGlyphs" fill="#231f20">b)</text>
<text x="337.10" y="30.50" font-size="13.4" font-weight="bold" textLength="11.44" lengthAdjust="spacingAndGlyphs" fill="#231f20">c)</text>
<text x="13.07" y="104.65" font-size="13.4" textLength="109.14" lengthAdjust="spacingAndGlyphs" fill="#231f20">Right adrenal gland</text>
<text x="158.86" y="100.20" font-size="13.4" textLength="126.67" lengthAdjust="spacingAndGlyphs" fill="#231f20">Multiple arterial supply</text>
<text x="210.48" y="130.10" font-size="13.4" textLength="99.93" lengthAdjust="spacingAndGlyphs" fill="#231f20">Left adrenal gland</text>
<text x="434.08" y="21.80" font-size="13.4" textLength="88.47" lengthAdjust="spacingAndGlyphs" fill="#231f20">Adrenal capsule</text>
<text x="516.12" y="69.80" font-size="13.4" textLength="96.88" lengthAdjust="spacingAndGlyphs" fill="#231f20">Zona glomerulosa</text>
<text x="516.11" y="121.50" font-size="13.4" textLength="89.79" lengthAdjust="spacingAndGlyphs" fill="#231f20">Zona fasciculata</text>
<text x="513.40" y="173.80" font-size="13.4" textLength="85.65" lengthAdjust="spacingAndGlyphs" fill="#231f20">Zona reticularis</text>
<text x="516.28" y="203.00" font-size="13.4" textLength="89.42" lengthAdjust="spacingAndGlyphs" fill="#231f20">Adrenal medulla</text>
<text x="501.28" y="265.90" font-size="13.4" textLength="87.87" lengthAdjust="spacingAndGlyphs" fill="#231f20">Adrenal capsule</text>
<text x="515.81" y="290.70" font-size="13.4" textLength="97.29" lengthAdjust="spacingAndGlyphs" fill="#231f20">Zona glomerulosa</text>
<text x="524.91" y="321.10" font-size="13.4" textLength="89.09" lengthAdjust="spacingAndGlyphs" fill="#231f20">Zona fasciculata</text>
<text x="330.58" y="359.20" font-size="13.4" textLength="89.42" lengthAdjust="spacingAndGlyphs" fill="#231f20">Adrenal medulla</text>
<text x="436.60" y="382.60" font-size="13.4" textLength="85.15" lengthAdjust="spacingAndGlyphs" fill="#231f20">Zona reticularis</text>
<text x="232.17" y="301.60" font-size="13.4" textLength="60.65" lengthAdjust="spacingAndGlyphs" fill="#231f20">Left kidney</text>
<text x="156.57" y="323.70" font-size="13.4" textLength="78.74" lengthAdjust="spacingAndGlyphs" fill="#231f20">Left renal vein</text>
<text x="151.18" y="355.80" font-size="13.4" textLength="90.82" lengthAdjust="spacingAndGlyphs" fill="#231f20">Abdominal aorta</text>
<text x="128.66" y="371.80" font-size="13.4" textLength="97.84" lengthAdjust="spacingAndGlyphs" fill="#231f20">Inferior vena cava</text>
<text x="8.45" y="329.80" font-size="13.4" textLength="29.95" lengthAdjust="spacingAndGlyphs" fill="#231f20">Right</text>
<text x="8.64" y="347.70" font-size="13.4" textLength="36.68" lengthAdjust="spacingAndGlyphs" fill="#231f20">kidney</text>
<text x="51.56" y="350.70" font-size="13.4" textLength="29.53" lengthAdjust="spacingAndGlyphs" fill="#231f20">Right</text>
<text x="51.78" y="369.50" font-size="13.4" textLength="27.45" lengthAdjust="spacingAndGlyphs" fill="#231f20">renal</text>
<text x="52.10" y="387.40" font-size="13.4" textLength="30.33" lengthAdjust="spacingAndGlyphs" fill="#231f20">artery</text>
<text x="90.68" y="368.60" font-size="13.4" textLength="29.11" lengthAdjust="spacingAndGlyphs" fill="#231f20">Right</text>
<text x="90.89" y="387.40" font-size="13.4" textLength="27.02" lengthAdjust="spacingAndGlyphs" fill="#231f20">renal</text>
<text x="91.66" y="405.30" font-size="13.4" textLength="21.81" lengthAdjust="spacingAndGlyphs" fill="#231f20">vein</text>
<text x="9.17" y="435.80" font-size="13.6" textLength="228.87" lengthAdjust="spacingAndGlyphs" fill="#231f20">a) General anatomy of the adrenal glands</text>
<text x="8.89" y="453.80" font-size="13.6" textLength="551.91" lengthAdjust="spacingAndGlyphs" fill="#231f20">b) Cross section of a single adrenal with three zones of the outer cortex and inner medulla identified</text>
<text x="9.17" y="471.50" font-size="13.6" textLength="426.09" lengthAdjust="spacingAndGlyphs" fill="#231f20">c) An exploded view illustrating the cell formations comprising of three zones</text>
<text x="8.98" y="509.20" font-size="10.9" textLength="124.54" lengthAdjust="spacingAndGlyphs" fill="#231f20">(Laycock and Meeran 2013)</text>
<text transform="translate(642.60,153.40) rotate(-90)" x="-0.02" y="0" font-size="13.9" textLength="78.05" lengthAdjust="spacingAndGlyphs" fill="#231f20">Adrenal cortex</text></g>
<g font-family="Liberation Sans, sans-serif"><text transform="translate(647.40,510.80) rotate(-90)" x="-0.58" y="0" font-size="9.6" font-weight="bold" textLength="50.55" lengthAdjust="spacingAndGlyphs" fill="#231f20">Reproduced</text>
<text transform="translate(647.40,458.10) rotate(-90)" x="0.02" y="0" font-size="9.6" font-weight="bold" textLength="15.15" lengthAdjust="spacingAndGlyphs" fill="#231f20">with</text>
<text transform="translate(647.40,440.80) rotate(-90)" x="-0.54" y="0" font-size="9.6" font-weight="bold" textLength="43.34" lengthAdjust="spacingAndGlyphs" fill="#231f20">permission</text>
<text transform="translate(647.40,395.50) rotate(-90)" x="-0.13" y="0" font-size="9.6" font-weight="bold" textLength="17.32" lengthAdjust="spacingAndGlyphs" fill="#231f20">from</text>
<text transform="translate(647.40,376.40) rotate(-90)" x="-0.01" y="0" font-size="9.6" font-weight="bold" textLength="64.42" lengthAdjust="spacingAndGlyphs" fill="#231f20">Wiley-Blackwell</text></g>
</svg>
</body></html>
